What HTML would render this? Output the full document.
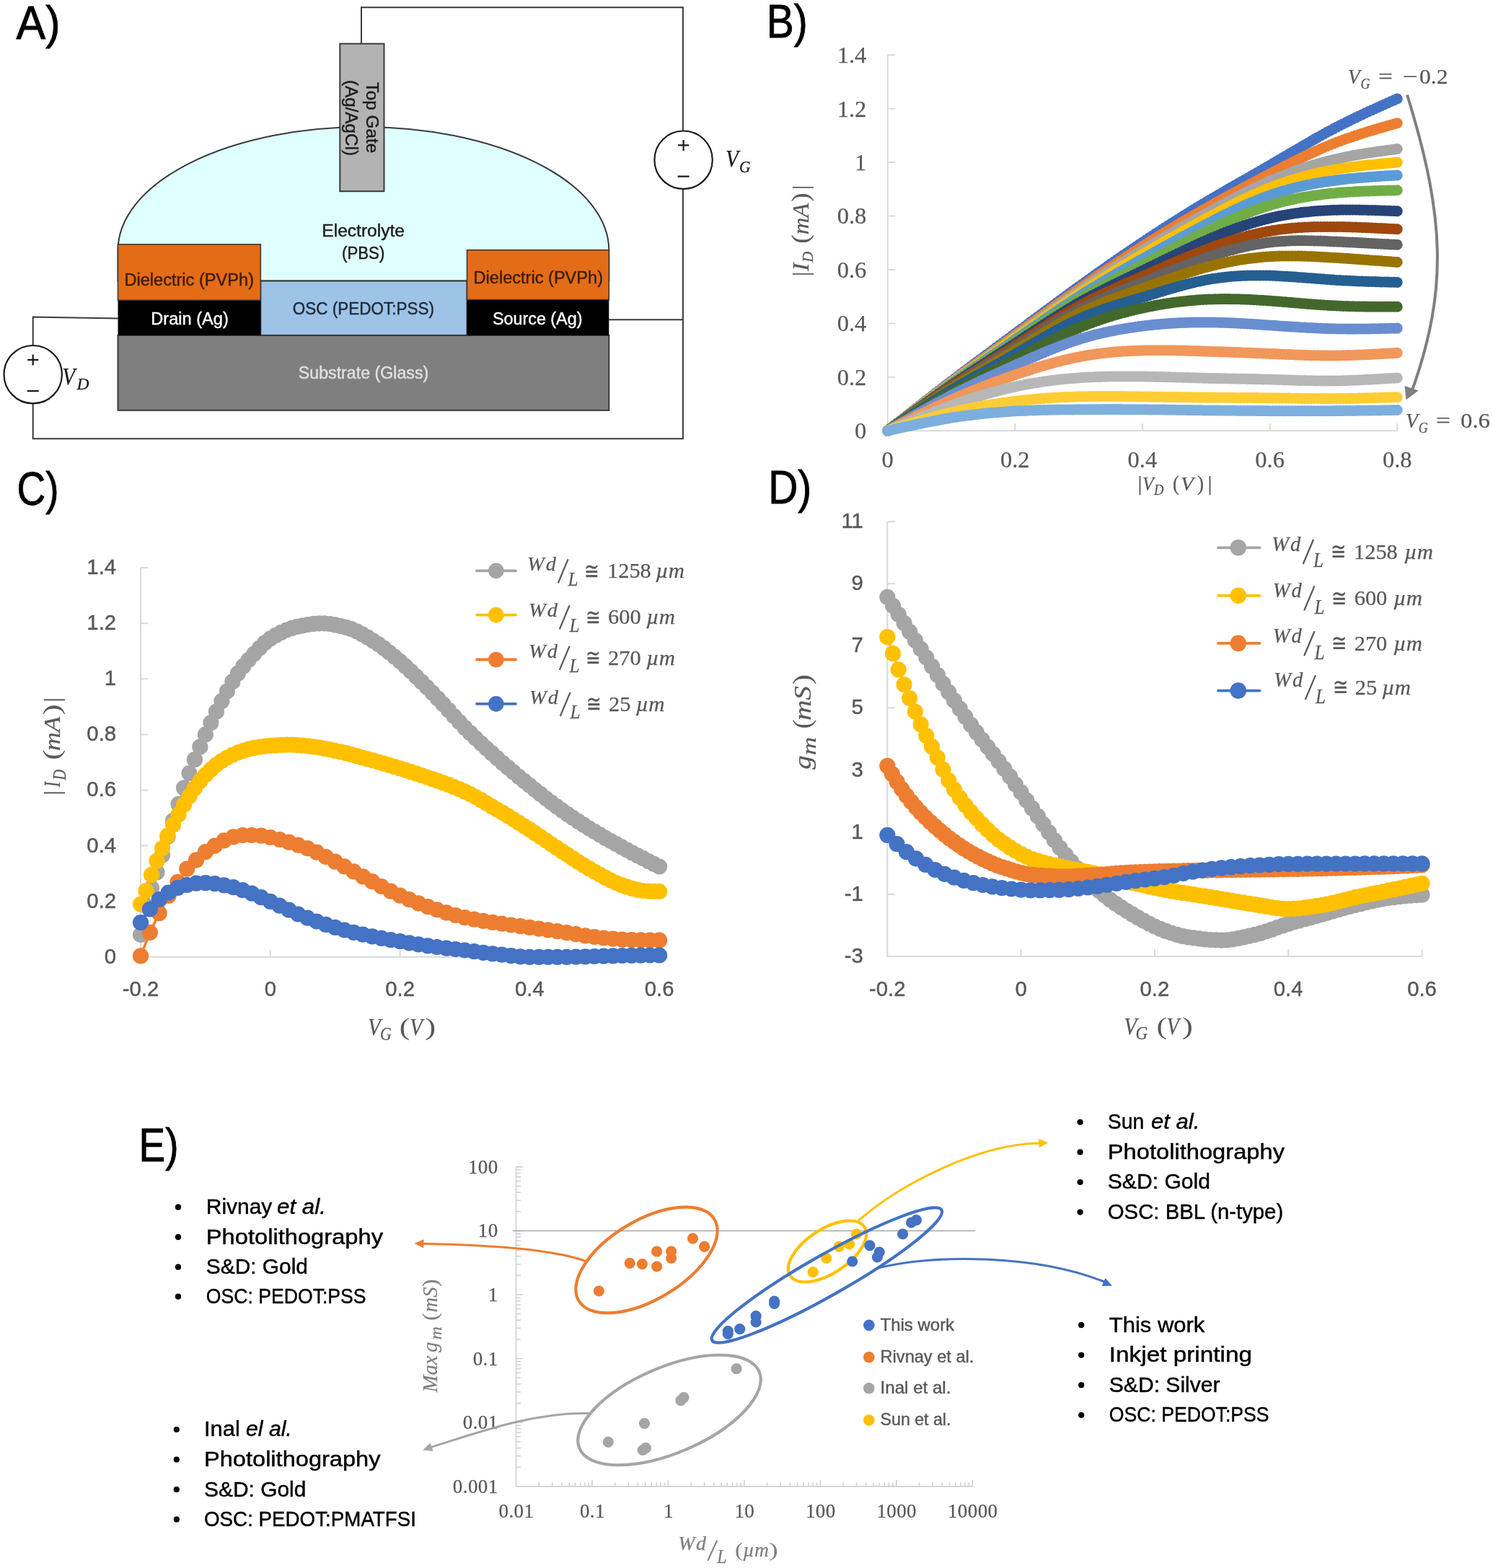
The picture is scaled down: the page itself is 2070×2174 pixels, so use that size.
<!DOCTYPE html>
<html lang="en"><head><meta charset="utf-8"><title>OECT figure</title>
<style>
html,body{margin:0;padding:0;background:#fff}
body{width:2070px;height:2174px;overflow:hidden}
svg{display:block}
.a{font-family:'Liberation Sans','DejaVu Sans',sans-serif}
.b{font-family:'Liberation Serif','DejaVu Serif',serif}
text{white-space:pre}
</style></head><body>
<svg width="2070" height="2174" viewBox="0 0 2070 2174">
<rect width="2070" height="2174" fill="#fff"/>
<g id="panelA">
<text class="a" x="22.5" y="53.5" font-size="64" textLength="61.0" lengthAdjust="spacingAndGlyphs" stroke="#000" stroke-width="0.9">A)</text>
<g fill="none" stroke="#3a3a3a" stroke-width="2">
<path d="M501,61 V10.3 H946.9 V181.5 M946.9,262 V608.2 H45.7 V559.5 M45.7,479 V439.4 L163.5,441.4 M844.3,443.3 H946.9"/>
</g>
<path d="M163.5,389.5 V347 A340.4,171 0 0 1 844.3,347 V389.5 Z" fill="#dffeff" stroke="#3a3a3a" stroke-width="2"/>
<rect x="163.5" y="464.9" width="680.8" height="104" fill="#7f7f7f" stroke="#3a3a3a" stroke-width="2"/>
<rect x="361.3" y="389.5" width="286.2" height="75.4" fill="#9dc3e6" stroke="#3a3a3a" stroke-width="2"/>
<rect x="163.5" y="416" width="197.8" height="49" fill="#000"/>
<rect x="647.5" y="415.3" width="196.8" height="49.7" fill="#000"/>
<rect x="163.5" y="338.8" width="197.8" height="77.4" fill="#e46c17" stroke="#3a3a3a" stroke-width="1.6"/>
<rect x="647.5" y="346.6" width="196.8" height="68.9" fill="#e46c17" stroke="#3a3a3a" stroke-width="1.6"/>
<rect x="471.3" y="60.6" width="61.2" height="204.6" fill="#b3b3b3" stroke="#3a3a3a" stroke-width="2"/>
<circle cx="947.6" cy="221.7" r="40.2" fill="#fff" stroke="#1a1a1a" stroke-width="2.2"/>
<path d="M940.1,201.39999999999998 h15 M947.6,193.89999999999998 v15 M939.6,244.7 h16" stroke="#1a1a1a" stroke-width="2.2" fill="none"/>
<circle cx="45.7" cy="519.2" r="40.2" fill="#fff" stroke="#1a1a1a" stroke-width="2.2"/>
<path d="M38.2,498.90000000000003 h15 M45.7,491.40000000000003 v15 M37.7,542.2 h16" stroke="#1a1a1a" stroke-width="2.2" fill="none"/>
<text class="a" x="446.3" y="327.5" font-size="24.6" fill="#1c1c1c" textLength="114.7" lengthAdjust="spacingAndGlyphs" stroke="#1c1c1c" stroke-width="0.45">Electrolyte</text>
<text class="a" x="474.0" y="358.7" font-size="24.6" fill="#1c1c1c" textLength="59.3" lengthAdjust="spacingAndGlyphs" stroke="#1c1c1c" stroke-width="0.45">(PBS)</text>
<text class="a" x="172.4" y="395.6" font-size="24.6" fill="#3a1c05" textLength="179.6" lengthAdjust="spacingAndGlyphs" stroke="#3a1c05" stroke-width="0.45">Dielectric (PVPh)</text>
<text class="a" x="656.6" y="392.9" font-size="24.6" fill="#3a1c05" textLength="179.4" lengthAdjust="spacingAndGlyphs" stroke="#3a1c05" stroke-width="0.45">Dielectric (PVPh)</text>
<text class="a" x="405.8" y="435.5" font-size="24.6" fill="#1f2a38" textLength="196.2" lengthAdjust="spacingAndGlyphs" stroke="#1f2a38" stroke-width="0.45">OSC (PEDOT:PSS)</text>
<text class="a" x="209.3" y="449.7" font-size="24.6" fill="#fff" textLength="107.5" lengthAdjust="spacingAndGlyphs" stroke="#fff" stroke-width="0.45">Drain (Ag)</text>
<text class="a" x="683.0" y="449.7" font-size="24.6" fill="#fff" textLength="124.4" lengthAdjust="spacingAndGlyphs" stroke="#fff" stroke-width="0.45">Source (Ag)</text>
<text class="a" x="413.8" y="524.5" font-size="24.6" fill="#e0e0e0" textLength="180.5" lengthAdjust="spacingAndGlyphs" stroke="#e0e0e0" stroke-width="0.45">Substrate (Glass)</text>
<text class="a" transform="translate(507.5,113.7) rotate(90)" font-size="24.6" fill="#1c1c1c" textLength="98.6" lengthAdjust="spacingAndGlyphs" stroke="#1c1c1c" stroke-width="0.45">Top Gate</text>
<text class="a" transform="translate(478.5,110.9) rotate(90)" font-size="24.6" fill="#1c1c1c" textLength="105.1" lengthAdjust="spacingAndGlyphs" stroke="#1c1c1c" stroke-width="0.45">(Ag/AgCl)</text>
<text class="b" x="1006.0" y="231.4" font-size="34" fill="#1a1a1a" font-style="italic" textLength="18.0" lengthAdjust="spacingAndGlyphs" stroke="#1a1a1a" stroke-width="0.25">V</text>
<text class="b" x="1025.0" y="238.6" font-size="24" fill="#1a1a1a" font-style="italic" textLength="15.5" lengthAdjust="spacingAndGlyphs" stroke="#1a1a1a" stroke-width="0.25">G</text>
<text class="b" x="86.3" y="532.8" font-size="34" fill="#1a1a1a" font-style="italic" textLength="18.0" lengthAdjust="spacingAndGlyphs" stroke="#1a1a1a" stroke-width="0.25">V</text>
<text class="b" x="106.5" y="539.8" font-size="24" fill="#1a1a1a" font-style="italic" textLength="17.0" lengthAdjust="spacingAndGlyphs" stroke="#1a1a1a" stroke-width="0.25">D</text>
</g>
<g id="panelB">
<text class="a" x="1062.8" y="52.3" font-size="64" textLength="57.0" lengthAdjust="spacingAndGlyphs" stroke="#000" stroke-width="0.9">B)</text>
<path d="M1230.7,76.3 V597.2 H1937.2 M1230.7,597.2 h10.5 M1230.7,522.8 h10.5 M1230.7,448.4 h10.5 M1230.7,373.9 h10.5 M1230.7,299.5 h10.5 M1230.7,225.1 h10.5 M1230.7,150.7 h10.5 M1230.7,76.3 h10.5 M1407.3,597.2 v-10 M1583.9,597.2 v-10 M1760.6,597.2 v-10 M1937.2,597.2 v-10" fill="none" stroke="#d9d9d9" stroke-width="2"/>
<text class="b" x="1201.3" y="608.0" font-size="32.5" fill="#595959" text-anchor="end" stroke="#595959" stroke-width="0.25">0</text>
<text class="b" x="1201.3" y="533.6" font-size="32.5" fill="#595959" text-anchor="end" stroke="#595959" stroke-width="0.25">0.2</text>
<text class="b" x="1201.3" y="459.2" font-size="32.5" fill="#595959" text-anchor="end" stroke="#595959" stroke-width="0.25">0.4</text>
<text class="b" x="1201.3" y="384.7" font-size="32.5" fill="#595959" text-anchor="end" stroke="#595959" stroke-width="0.25">0.6</text>
<text class="b" x="1201.3" y="310.3" font-size="32.5" fill="#595959" text-anchor="end" stroke="#595959" stroke-width="0.25">0.8</text>
<text class="b" x="1201.3" y="235.9" font-size="32.5" fill="#595959" text-anchor="end" stroke="#595959" stroke-width="0.25">1</text>
<text class="b" x="1201.3" y="161.5" font-size="32.5" fill="#595959" text-anchor="end" stroke="#595959" stroke-width="0.25">1.2</text>
<text class="b" x="1201.3" y="87.1" font-size="32.5" fill="#595959" text-anchor="end" stroke="#595959" stroke-width="0.25">1.4</text>
<text class="b" x="1230.7" y="647.8" font-size="32.5" fill="#595959" text-anchor="middle" stroke="#595959" stroke-width="0.25">0</text>
<text class="b" x="1407.3" y="647.8" font-size="32.5" fill="#595959" text-anchor="middle" stroke="#595959" stroke-width="0.25">0.2</text>
<text class="b" x="1583.9" y="647.8" font-size="32.5" fill="#595959" text-anchor="middle" stroke="#595959" stroke-width="0.25">0.4</text>
<text class="b" x="1760.6" y="647.8" font-size="32.5" fill="#595959" text-anchor="middle" stroke="#595959" stroke-width="0.25">0.6</text>
<text class="b" x="1937.2" y="647.8" font-size="32.5" fill="#595959" text-anchor="middle" stroke="#595959" stroke-width="0.25">0.8</text>
<text class="b" x="1577.5" y="679.5" font-size="30" fill="#595959" stroke="#595959" stroke-width="0.25">|</text>
<text class="b" x="1584.0" y="679.5" font-size="28" fill="#595959" font-style="italic" textLength="15.5" lengthAdjust="spacingAndGlyphs" stroke="#595959" stroke-width="0.25">V</text>
<text class="b" x="1600.0" y="685.5" font-size="20" fill="#595959" font-style="italic" textLength="13.5" lengthAdjust="spacingAndGlyphs" stroke="#595959" stroke-width="0.25">D</text>
<text class="b" x="1626.0" y="679.5" font-size="30" fill="#595959" textLength="9.0" lengthAdjust="spacingAndGlyphs" stroke="#595959" stroke-width="0.25">(</text>
<text class="b" x="1637.0" y="679.5" font-size="28" fill="#595959" font-style="italic" textLength="18.0" lengthAdjust="spacingAndGlyphs" stroke="#595959" stroke-width="0.25">V</text>
<text class="b" x="1660.0" y="679.5" font-size="30" fill="#595959" textLength="9.0" lengthAdjust="spacingAndGlyphs" stroke="#595959" stroke-width="0.25">)</text>
<text class="b" x="1674.5" y="679.5" font-size="30" fill="#595959" stroke="#595959" stroke-width="0.25">|</text>
<g transform="translate(1120.5,382.5) rotate(-90)">
<text class="b" x="-0.5" y="0.0" font-size="32" fill="#595959" stroke="#595959" stroke-width="0.25">|</text>
<text class="b" x="6.5" y="0.0" font-size="31.5" fill="#595959" font-style="italic" textLength="11.5" lengthAdjust="spacingAndGlyphs" stroke="#595959" stroke-width="0.25">I</text>
<text class="b" x="18.8" y="6.3" font-size="22" fill="#595959" font-style="italic" textLength="15.0" lengthAdjust="spacingAndGlyphs" stroke="#595959" stroke-width="0.25">D</text>
<text class="b" x="45.0" y="0.0" font-size="33" fill="#595959" textLength="12.0" lengthAdjust="spacingAndGlyphs" stroke="#595959" stroke-width="0.25">(</text>
<text class="b" x="57.3" y="0.0" font-size="31.5" fill="#595959" font-style="italic" textLength="43.5" lengthAdjust="spacingAndGlyphs" stroke="#595959" stroke-width="0.25">mA</text>
<text class="b" x="103.0" y="0.0" font-size="33" fill="#595959" textLength="12.0" lengthAdjust="spacingAndGlyphs" stroke="#595959" stroke-width="0.25">)</text>
<text class="b" x="119.5" y="0.0" font-size="32" fill="#595959" stroke="#595959" stroke-width="0.25">|</text>
</g>
<path d="M1230.7,597.2h0M1235.1,593.7h0M1239.5,590.2h0M1243.9,586.8h0M1248.4,583.3h0M1252.8,579.8h0M1257.2,576.3h0M1261.6,572.9h0M1266.0,569.4h0M1270.4,565.9h0M1274.9,562.5h0M1279.3,559.0h0M1283.7,555.6h0M1288.1,552.2h0M1292.5,548.7h0M1296.9,545.3h0M1301.3,541.9h0M1305.8,538.5h0M1310.2,535.1h0M1314.6,531.7h0M1319.0,528.4h0M1323.4,525.0h0M1327.8,521.7h0M1332.3,518.3h0M1336.7,515.0h0M1341.1,511.7h0M1345.5,508.4h0M1349.9,505.1h0M1354.3,501.8h0M1358.7,498.5h0M1363.2,495.2h0M1367.6,491.9h0M1372.0,488.7h0M1376.4,485.4h0M1380.8,482.1h0M1385.2,478.8h0M1389.7,475.6h0M1394.1,472.3h0M1398.5,469.0h0M1402.9,465.8h0M1407.3,462.5h0M1411.7,459.2h0M1416.2,455.9h0M1420.6,452.7h0M1425.0,449.4h0M1429.4,446.1h0M1433.8,442.8h0M1438.2,439.6h0M1442.6,436.3h0M1447.1,433.0h0M1451.5,429.7h0M1455.9,426.5h0M1460.3,423.2h0M1464.7,420.0h0M1469.1,416.7h0M1473.6,413.5h0M1478.0,410.2h0M1482.4,407.0h0M1486.8,403.8h0M1491.2,400.6h0M1495.6,397.4h0M1500.0,394.2h0M1504.5,391.0h0M1508.9,387.9h0M1513.3,384.7h0M1517.7,381.6h0M1522.1,378.4h0M1526.5,375.3h0M1531.0,372.2h0M1535.4,369.1h0M1539.8,366.1h0M1544.2,363.0h0M1548.6,359.9h0M1553.0,356.9h0M1557.4,353.9h0M1561.9,350.9h0M1566.3,347.9h0M1570.7,344.9h0M1575.1,341.9h0M1579.5,338.9h0M1583.9,336.0h0M1588.4,333.1h0M1592.8,330.1h0M1597.2,327.2h0M1601.6,324.3h0M1606.0,321.5h0M1610.4,318.6h0M1614.8,315.7h0M1619.3,312.9h0M1623.7,310.1h0M1628.1,307.3h0M1632.5,304.5h0M1636.9,301.7h0M1641.3,299.0h0M1645.8,296.2h0M1650.2,293.5h0M1654.6,290.8h0M1659.0,288.1h0M1663.4,285.5h0M1667.8,282.8h0M1672.2,280.2h0M1676.7,277.6h0M1681.1,275.0h0M1685.5,272.4h0M1689.9,269.8h0M1694.3,267.2h0M1698.7,264.7h0M1703.2,262.1h0M1707.6,259.6h0M1712.0,257.1h0M1716.4,254.5h0M1720.8,252.0h0M1725.2,249.5h0M1729.7,247.0h0M1734.1,244.5h0M1738.5,241.9h0M1742.9,239.4h0M1747.3,236.9h0M1751.7,234.3h0M1756.1,231.8h0M1760.6,229.2h0M1765.0,226.6h0M1769.4,224.0h0M1773.8,221.4h0M1778.2,218.8h0M1782.6,216.2h0M1787.1,213.6h0M1791.5,211.0h0M1795.9,208.4h0M1800.3,205.9h0M1804.7,203.3h0M1809.1,200.7h0M1813.5,198.2h0M1818.0,195.6h0M1822.4,193.1h0M1826.8,190.6h0M1831.2,188.2h0M1835.6,185.7h0M1840.0,183.3h0M1844.5,180.9h0M1848.9,178.6h0M1853.3,176.3h0M1857.7,174.0h0M1862.1,171.8h0M1866.5,169.6h0M1870.9,167.4h0M1875.4,165.2h0M1879.8,163.1h0M1884.2,161.0h0M1888.6,158.9h0M1893.0,156.8h0M1897.4,154.8h0M1901.9,152.8h0M1906.3,150.8h0M1910.7,148.7h0M1915.1,146.8h0M1919.5,144.8h0M1923.9,142.8h0M1928.3,140.8h0M1932.8,138.9h0M1937.2,136.9h0" stroke="#4472c4" stroke-width="15" stroke-linecap="round" fill="none"/>
<path d="M1230.7,597.2h0M1235.1,593.8h0M1239.5,590.3h0M1243.9,586.9h0M1248.4,583.5h0M1252.8,580.1h0M1257.2,576.7h0M1261.6,573.2h0M1266.0,569.8h0M1270.4,566.4h0M1274.9,563.0h0M1279.3,559.6h0M1283.7,556.3h0M1288.1,552.9h0M1292.5,549.5h0M1296.9,546.1h0M1301.3,542.8h0M1305.8,539.4h0M1310.2,536.1h0M1314.6,532.8h0M1319.0,529.5h0M1323.4,526.2h0M1327.8,522.9h0M1332.3,519.6h0M1336.7,516.3h0M1341.1,513.1h0M1345.5,509.8h0M1349.9,506.6h0M1354.3,503.4h0M1358.7,500.1h0M1363.2,496.9h0M1367.6,493.7h0M1372.0,490.5h0M1376.4,487.2h0M1380.8,484.0h0M1385.2,480.8h0M1389.7,477.6h0M1394.1,474.4h0M1398.5,471.2h0M1402.9,468.0h0M1407.3,464.7h0M1411.7,461.5h0M1416.2,458.3h0M1420.6,455.0h0M1425.0,451.8h0M1429.4,448.6h0M1433.8,445.4h0M1438.2,442.1h0M1442.6,438.9h0M1447.1,435.7h0M1451.5,432.5h0M1455.9,429.2h0M1460.3,426.0h0M1464.7,422.8h0M1469.1,419.6h0M1473.6,416.5h0M1478.0,413.3h0M1482.4,410.1h0M1486.8,407.0h0M1491.2,403.9h0M1495.6,400.7h0M1500.0,397.6h0M1504.5,394.5h0M1508.9,391.5h0M1513.3,388.4h0M1517.7,385.4h0M1522.1,382.3h0M1526.5,379.3h0M1531.0,376.3h0M1535.4,373.3h0M1539.8,370.4h0M1544.2,367.4h0M1548.6,364.5h0M1553.0,361.6h0M1557.4,358.7h0M1561.9,355.8h0M1566.3,352.9h0M1570.7,350.0h0M1575.1,347.2h0M1579.5,344.4h0M1583.9,341.6h0M1588.4,338.8h0M1592.8,336.0h0M1597.2,333.2h0M1601.6,330.5h0M1606.0,327.8h0M1610.4,325.1h0M1614.8,322.4h0M1619.3,319.7h0M1623.7,317.0h0M1628.1,314.4h0M1632.5,311.7h0M1636.9,309.1h0M1641.3,306.5h0M1645.8,303.9h0M1650.2,301.4h0M1654.6,298.8h0M1659.0,296.3h0M1663.4,293.7h0M1667.8,291.2h0M1672.2,288.7h0M1676.7,286.2h0M1681.1,283.8h0M1685.5,281.3h0M1689.9,278.9h0M1694.3,276.4h0M1698.7,274.0h0M1703.2,271.6h0M1707.6,269.2h0M1712.0,266.8h0M1716.4,264.4h0M1720.8,262.1h0M1725.2,259.7h0M1729.7,257.4h0M1734.1,255.0h0M1738.5,252.7h0M1742.9,250.4h0M1747.3,248.0h0M1751.7,245.7h0M1756.1,243.4h0M1760.6,241.1h0M1765.0,238.8h0M1769.4,236.5h0M1773.8,234.2h0M1778.2,232.0h0M1782.6,229.7h0M1787.1,227.5h0M1791.5,225.2h0M1795.9,223.0h0M1800.3,220.9h0M1804.7,218.7h0M1809.1,216.6h0M1813.5,214.5h0M1818.0,212.4h0M1822.4,210.4h0M1826.8,208.4h0M1831.2,206.4h0M1835.6,204.5h0M1840.0,202.7h0M1844.5,200.8h0M1848.9,199.1h0M1853.3,197.3h0M1857.7,195.7h0M1862.1,194.0h0M1866.5,192.4h0M1870.9,190.9h0M1875.4,189.4h0M1879.8,187.9h0M1884.2,186.4h0M1888.6,185.0h0M1893.0,183.7h0M1897.4,182.3h0M1901.9,181.0h0M1906.3,179.6h0M1910.7,178.3h0M1915.1,177.1h0M1919.5,175.8h0M1923.9,174.5h0M1928.3,173.3h0M1932.8,172.0h0M1937.2,170.8h0" stroke="#ed7d31" stroke-width="15" stroke-linecap="round" fill="none"/>
<path d="M1230.7,597.2h0M1235.1,593.8h0M1239.5,590.4h0M1243.9,587.0h0M1248.4,583.6h0M1252.8,580.2h0M1257.2,576.8h0M1261.6,573.4h0M1266.0,570.0h0M1270.4,566.7h0M1274.9,563.3h0M1279.3,559.9h0M1283.7,556.6h0M1288.1,553.3h0M1292.5,549.9h0M1296.9,546.6h0M1301.3,543.3h0M1305.8,540.0h0M1310.2,536.7h0M1314.6,533.5h0M1319.0,530.2h0M1323.4,527.0h0M1327.8,523.8h0M1332.3,520.6h0M1336.7,517.4h0M1341.1,514.2h0M1345.5,511.0h0M1349.9,507.9h0M1354.3,504.7h0M1358.7,501.6h0M1363.2,498.4h0M1367.6,495.3h0M1372.0,492.2h0M1376.4,489.0h0M1380.8,485.9h0M1385.2,482.7h0M1389.7,479.6h0M1394.1,476.5h0M1398.5,473.3h0M1402.9,470.1h0M1407.3,467.0h0M1411.7,463.8h0M1416.2,460.6h0M1420.6,457.4h0M1425.0,454.2h0M1429.4,451.0h0M1433.8,447.8h0M1438.2,444.6h0M1442.6,441.4h0M1447.1,438.2h0M1451.5,435.0h0M1455.9,431.8h0M1460.3,428.6h0M1464.7,425.4h0M1469.1,422.3h0M1473.6,419.1h0M1478.0,416.0h0M1482.4,412.9h0M1486.8,409.8h0M1491.2,406.8h0M1495.6,403.7h0M1500.0,400.7h0M1504.5,397.7h0M1508.9,394.7h0M1513.3,391.8h0M1517.7,388.8h0M1522.1,385.9h0M1526.5,383.0h0M1531.0,380.2h0M1535.4,377.3h0M1539.8,374.5h0M1544.2,371.7h0M1548.6,368.9h0M1553.0,366.1h0M1557.4,363.4h0M1561.9,360.6h0M1566.3,357.9h0M1570.7,355.2h0M1575.1,352.5h0M1579.5,349.8h0M1583.9,347.1h0M1588.4,344.5h0M1592.8,341.9h0M1597.2,339.2h0M1601.6,336.6h0M1606.0,334.0h0M1610.4,331.4h0M1614.8,328.8h0M1619.3,326.2h0M1623.7,323.7h0M1628.1,321.1h0M1632.5,318.6h0M1636.9,316.1h0M1641.3,313.5h0M1645.8,311.0h0M1650.2,308.5h0M1654.6,306.0h0M1659.0,303.6h0M1663.4,301.1h0M1667.8,298.6h0M1672.2,296.2h0M1676.7,293.7h0M1681.1,291.3h0M1685.5,288.9h0M1689.9,286.4h0M1694.3,284.0h0M1698.7,281.7h0M1703.2,279.3h0M1707.6,277.0h0M1712.0,274.7h0M1716.4,272.4h0M1720.8,270.1h0M1725.2,267.8h0M1729.7,265.6h0M1734.1,263.5h0M1738.5,261.3h0M1742.9,259.2h0M1747.3,257.1h0M1751.7,255.1h0M1756.1,253.1h0M1760.6,251.1h0M1765.0,249.2h0M1769.4,247.4h0M1773.8,245.6h0M1778.2,243.8h0M1782.6,242.0h0M1787.1,240.4h0M1791.5,238.7h0M1795.9,237.1h0M1800.3,235.6h0M1804.7,234.0h0M1809.1,232.6h0M1813.5,231.2h0M1818.0,229.8h0M1822.4,228.4h0M1826.8,227.2h0M1831.2,225.9h0M1835.6,224.7h0M1840.0,223.6h0M1844.5,222.4h0M1848.9,221.4h0M1853.3,220.4h0M1857.7,219.4h0M1862.1,218.4h0M1866.5,217.5h0M1870.9,216.7h0M1875.4,215.8h0M1879.8,215.0h0M1884.2,214.3h0M1888.6,213.5h0M1893.0,212.8h0M1897.4,212.1h0M1901.9,211.4h0M1906.3,210.8h0M1910.7,210.1h0M1915.1,209.5h0M1919.5,208.9h0M1923.9,208.3h0M1928.3,207.7h0M1932.8,207.1h0M1937.2,206.5h0" stroke="#a5a5a5" stroke-width="15" stroke-linecap="round" fill="none"/>
<path d="M1230.7,597.2h0M1235.1,593.9h0M1239.5,590.5h0M1243.9,587.2h0M1248.4,583.9h0M1252.8,580.5h0M1257.2,577.2h0M1261.6,573.9h0M1266.0,570.5h0M1270.4,567.2h0M1274.9,563.9h0M1279.3,560.6h0M1283.7,557.3h0M1288.1,554.0h0M1292.5,550.8h0M1296.9,547.5h0M1301.3,544.2h0M1305.8,541.0h0M1310.2,537.8h0M1314.6,534.5h0M1319.0,531.3h0M1323.4,528.1h0M1327.8,525.0h0M1332.3,521.8h0M1336.7,518.6h0M1341.1,515.5h0M1345.5,512.3h0M1349.9,509.2h0M1354.3,506.1h0M1358.7,503.0h0M1363.2,499.9h0M1367.6,496.8h0M1372.0,493.7h0M1376.4,490.6h0M1380.8,487.5h0M1385.2,484.4h0M1389.7,481.2h0M1394.1,478.1h0M1398.5,475.0h0M1402.9,471.9h0M1407.3,468.8h0M1411.7,465.7h0M1416.2,462.6h0M1420.6,459.5h0M1425.0,456.3h0M1429.4,453.2h0M1433.8,450.1h0M1438.2,447.0h0M1442.6,443.9h0M1447.1,440.8h0M1451.5,437.7h0M1455.9,434.6h0M1460.3,431.5h0M1464.7,428.4h0M1469.1,425.4h0M1473.6,422.3h0M1478.0,419.3h0M1482.4,416.3h0M1486.8,413.3h0M1491.2,410.4h0M1495.6,407.4h0M1500.0,404.5h0M1504.5,401.6h0M1508.9,398.7h0M1513.3,395.9h0M1517.7,393.1h0M1522.1,390.2h0M1526.5,387.5h0M1531.0,384.7h0M1535.4,381.9h0M1539.8,379.2h0M1544.2,376.5h0M1548.6,373.8h0M1553.0,371.1h0M1557.4,368.4h0M1561.9,365.8h0M1566.3,363.1h0M1570.7,360.5h0M1575.1,357.9h0M1579.5,355.3h0M1583.9,352.7h0M1588.4,350.2h0M1592.8,347.6h0M1597.2,345.0h0M1601.6,342.5h0M1606.0,340.0h0M1610.4,337.5h0M1614.8,334.9h0M1619.3,332.4h0M1623.7,330.0h0M1628.1,327.5h0M1632.5,325.0h0M1636.9,322.6h0M1641.3,320.1h0M1645.8,317.7h0M1650.2,315.2h0M1654.6,312.8h0M1659.0,310.4h0M1663.4,308.0h0M1667.8,305.6h0M1672.2,303.2h0M1676.7,300.9h0M1681.1,298.5h0M1685.5,296.2h0M1689.9,293.8h0M1694.3,291.5h0M1698.7,289.2h0M1703.2,286.9h0M1707.6,284.7h0M1712.0,282.5h0M1716.4,280.3h0M1720.8,278.1h0M1725.2,276.0h0M1729.7,273.9h0M1734.1,271.8h0M1738.5,269.8h0M1742.9,267.8h0M1747.3,265.9h0M1751.7,264.0h0M1756.1,262.2h0M1760.6,260.4h0M1765.0,258.7h0M1769.4,257.1h0M1773.8,255.5h0M1778.2,253.9h0M1782.6,252.4h0M1787.1,250.9h0M1791.5,249.5h0M1795.9,248.2h0M1800.3,246.9h0M1804.7,245.6h0M1809.1,244.4h0M1813.5,243.2h0M1818.0,242.1h0M1822.4,241.0h0M1826.8,240.0h0M1831.2,239.0h0M1835.6,238.1h0M1840.0,237.2h0M1844.5,236.3h0M1848.9,235.5h0M1853.3,234.7h0M1857.7,234.0h0M1862.1,233.3h0M1866.5,232.7h0M1870.9,232.0h0M1875.4,231.4h0M1879.8,230.9h0M1884.2,230.3h0M1888.6,229.8h0M1893.0,229.3h0M1897.4,228.8h0M1901.9,228.4h0M1906.3,227.9h0M1910.7,227.5h0M1915.1,227.1h0M1919.5,226.7h0M1923.9,226.3h0M1928.3,225.9h0M1932.8,225.5h0M1937.2,225.1h0" stroke="#ffc000" stroke-width="15" stroke-linecap="round" fill="none"/>
<path d="M1230.7,597.2h0M1235.1,593.9h0M1239.5,590.6h0M1243.9,587.3h0M1248.4,584.0h0M1252.8,580.7h0M1257.2,577.4h0M1261.6,574.1h0M1266.0,570.8h0M1270.4,567.5h0M1274.9,564.2h0M1279.3,560.9h0M1283.7,557.7h0M1288.1,554.4h0M1292.5,551.2h0M1296.9,548.0h0M1301.3,544.8h0M1305.8,541.6h0M1310.2,538.4h0M1314.6,535.2h0M1319.0,532.1h0M1323.4,529.0h0M1327.8,525.8h0M1332.3,522.7h0M1336.7,519.6h0M1341.1,516.6h0M1345.5,513.5h0M1349.9,510.4h0M1354.3,507.4h0M1358.7,504.4h0M1363.2,501.3h0M1367.6,498.3h0M1372.0,495.3h0M1376.4,492.3h0M1380.8,489.2h0M1385.2,486.2h0M1389.7,483.2h0M1394.1,480.2h0M1398.5,477.1h0M1402.9,474.1h0M1407.3,471.1h0M1411.7,468.0h0M1416.2,465.0h0M1420.6,461.9h0M1425.0,458.8h0M1429.4,455.8h0M1433.8,452.7h0M1438.2,449.7h0M1442.6,446.6h0M1447.1,443.6h0M1451.5,440.5h0M1455.9,437.5h0M1460.3,434.5h0M1464.7,431.5h0M1469.1,428.5h0M1473.6,425.6h0M1478.0,422.7h0M1482.4,419.7h0M1486.8,416.8h0M1491.2,414.0h0M1495.6,411.2h0M1500.0,408.3h0M1504.5,405.6h0M1508.9,402.8h0M1513.3,400.1h0M1517.7,397.4h0M1522.1,394.7h0M1526.5,392.1h0M1531.0,389.4h0M1535.4,386.8h0M1539.8,384.2h0M1544.2,381.7h0M1548.6,379.1h0M1553.0,376.6h0M1557.4,374.0h0M1561.9,371.5h0M1566.3,369.0h0M1570.7,366.5h0M1575.1,364.0h0M1579.5,361.5h0M1583.9,359.1h0M1588.4,356.6h0M1592.8,354.1h0M1597.2,351.7h0M1601.6,349.2h0M1606.0,346.8h0M1610.4,344.3h0M1614.8,341.9h0M1619.3,339.5h0M1623.7,337.0h0M1628.1,334.6h0M1632.5,332.2h0M1636.9,329.8h0M1641.3,327.4h0M1645.8,325.1h0M1650.2,322.7h0M1654.6,320.4h0M1659.0,318.0h0M1663.4,315.7h0M1667.8,313.4h0M1672.2,311.1h0M1676.7,308.8h0M1681.1,306.5h0M1685.5,304.2h0M1689.9,302.0h0M1694.3,299.8h0M1698.7,297.6h0M1703.2,295.4h0M1707.6,293.3h0M1712.0,291.2h0M1716.4,289.1h0M1720.8,287.1h0M1725.2,285.1h0M1729.7,283.1h0M1734.1,281.2h0M1738.5,279.4h0M1742.9,277.5h0M1747.3,275.8h0M1751.7,274.1h0M1756.1,272.4h0M1760.6,270.9h0M1765.0,269.3h0M1769.4,267.9h0M1773.8,266.5h0M1778.2,265.1h0M1782.6,263.9h0M1787.1,262.6h0M1791.5,261.5h0M1795.9,260.3h0M1800.3,259.3h0M1804.7,258.2h0M1809.1,257.3h0M1813.5,256.3h0M1818.0,255.5h0M1822.4,254.6h0M1826.8,253.8h0M1831.2,253.1h0M1835.6,252.3h0M1840.0,251.7h0M1844.5,251.0h0M1848.9,250.4h0M1853.3,249.8h0M1857.7,249.3h0M1862.1,248.8h0M1866.5,248.3h0M1870.9,247.8h0M1875.4,247.4h0M1879.8,247.0h0M1884.2,246.6h0M1888.6,246.2h0M1893.0,245.9h0M1897.4,245.5h0M1901.9,245.2h0M1906.3,244.9h0M1910.7,244.6h0M1915.1,244.3h0M1919.5,244.0h0M1923.9,243.8h0M1928.3,243.5h0M1932.8,243.2h0M1937.2,243.0h0" stroke="#5b9bd5" stroke-width="15" stroke-linecap="round" fill="none"/>
<path d="M1230.7,597.2h0M1235.1,593.9h0M1239.5,590.7h0M1243.9,587.4h0M1248.4,584.2h0M1252.8,580.9h0M1257.2,577.7h0M1261.6,574.4h0M1266.0,571.2h0M1270.4,568.0h0M1274.9,564.8h0M1279.3,561.6h0M1283.7,558.4h0M1288.1,555.2h0M1292.5,552.0h0M1296.9,548.8h0M1301.3,545.7h0M1305.8,542.5h0M1310.2,539.4h0M1314.6,536.3h0M1319.0,533.2h0M1323.4,530.1h0M1327.8,527.1h0M1332.3,524.0h0M1336.7,521.0h0M1341.1,518.0h0M1345.5,515.0h0M1349.9,512.0h0M1354.3,509.0h0M1358.7,506.0h0M1363.2,503.0h0M1367.6,500.0h0M1372.0,497.1h0M1376.4,494.1h0M1380.8,491.1h0M1385.2,488.2h0M1389.7,485.2h0M1394.1,482.2h0M1398.5,479.3h0M1402.9,476.3h0M1407.3,473.3h0M1411.7,470.3h0M1416.2,467.3h0M1420.6,464.3h0M1425.0,461.3h0M1429.4,458.3h0M1433.8,455.3h0M1438.2,452.3h0M1442.6,449.3h0M1447.1,446.4h0M1451.5,443.4h0M1455.9,440.5h0M1460.3,437.6h0M1464.7,434.7h0M1469.1,431.8h0M1473.6,429.0h0M1478.0,426.1h0M1482.4,423.4h0M1486.8,420.6h0M1491.2,417.9h0M1495.6,415.2h0M1500.0,412.6h0M1504.5,410.0h0M1508.9,407.5h0M1513.3,405.0h0M1517.7,402.5h0M1522.1,400.0h0M1526.5,397.6h0M1531.0,395.2h0M1535.4,392.8h0M1539.8,390.4h0M1544.2,388.1h0M1548.6,385.7h0M1553.0,383.4h0M1557.4,381.1h0M1561.9,378.8h0M1566.3,376.5h0M1570.7,374.2h0M1575.1,371.9h0M1579.5,369.6h0M1583.9,367.2h0M1588.4,364.9h0M1592.8,362.6h0M1597.2,360.2h0M1601.6,357.9h0M1606.0,355.5h0M1610.4,353.2h0M1614.8,350.8h0M1619.3,348.5h0M1623.7,346.2h0M1628.1,343.8h0M1632.5,341.5h0M1636.9,339.2h0M1641.3,336.9h0M1645.8,334.6h0M1650.2,332.3h0M1654.6,330.0h0M1659.0,327.7h0M1663.4,325.5h0M1667.8,323.3h0M1672.2,321.1h0M1676.7,318.9h0M1681.1,316.8h0M1685.5,314.7h0M1689.9,312.6h0M1694.3,310.5h0M1698.7,308.5h0M1703.2,306.5h0M1707.6,304.6h0M1712.0,302.7h0M1716.4,300.8h0M1720.8,298.9h0M1725.2,297.2h0M1729.7,295.4h0M1734.1,293.7h0M1738.5,292.1h0M1742.9,290.5h0M1747.3,288.9h0M1751.7,287.4h0M1756.1,286.0h0M1760.6,284.6h0M1765.0,283.3h0M1769.4,282.1h0M1773.8,280.9h0M1778.2,279.7h0M1782.6,278.6h0M1787.1,277.6h0M1791.5,276.6h0M1795.9,275.7h0M1800.3,274.8h0M1804.7,274.0h0M1809.1,273.2h0M1813.5,272.4h0M1818.0,271.7h0M1822.4,271.1h0M1826.8,270.4h0M1831.2,269.9h0M1835.6,269.3h0M1840.0,268.8h0M1844.5,268.3h0M1848.9,267.9h0M1853.3,267.5h0M1857.7,267.1h0M1862.1,266.8h0M1866.5,266.4h0M1870.9,266.2h0M1875.4,265.9h0M1879.8,265.6h0M1884.2,265.4h0M1888.6,265.2h0M1893.0,265.0h0M1897.4,264.9h0M1901.9,264.7h0M1906.3,264.6h0M1910.7,264.4h0M1915.1,264.3h0M1919.5,264.2h0M1923.9,264.1h0M1928.3,264.0h0M1932.8,263.9h0M1937.2,263.8h0" stroke="#70ad47" stroke-width="15" stroke-linecap="round" fill="none"/>
<path d="M1230.7,597.2h0M1235.1,594.0h0M1239.5,590.8h0M1243.9,587.6h0M1248.4,584.4h0M1252.8,581.2h0M1257.2,578.0h0M1261.6,574.8h0M1266.0,571.6h0M1270.4,568.4h0M1274.9,565.2h0M1279.3,562.1h0M1283.7,558.9h0M1288.1,555.8h0M1292.5,552.7h0M1296.9,549.6h0M1301.3,546.5h0M1305.8,543.4h0M1310.2,540.4h0M1314.6,537.3h0M1319.0,534.3h0M1323.4,531.3h0M1327.8,528.3h0M1332.3,525.4h0M1336.7,522.4h0M1341.1,519.5h0M1345.5,516.6h0M1349.9,513.7h0M1354.3,510.8h0M1358.7,507.9h0M1363.2,505.0h0M1367.6,502.2h0M1372.0,499.3h0M1376.4,496.4h0M1380.8,493.5h0M1385.2,490.7h0M1389.7,487.8h0M1394.1,484.9h0M1398.5,482.1h0M1402.9,479.2h0M1407.3,476.3h0M1411.7,473.4h0M1416.2,470.4h0M1420.6,467.5h0M1425.0,464.6h0M1429.4,461.7h0M1433.8,458.8h0M1438.2,455.9h0M1442.6,453.0h0M1447.1,450.1h0M1451.5,447.2h0M1455.9,444.4h0M1460.3,441.5h0M1464.7,438.7h0M1469.1,436.0h0M1473.6,433.2h0M1478.0,430.5h0M1482.4,427.8h0M1486.8,425.2h0M1491.2,422.6h0M1495.6,420.1h0M1500.0,417.6h0M1504.5,415.1h0M1508.9,412.7h0M1513.3,410.3h0M1517.7,408.0h0M1522.1,405.7h0M1526.5,403.4h0M1531.0,401.2h0M1535.4,399.0h0M1539.8,396.8h0M1544.2,394.6h0M1548.6,392.5h0M1553.0,390.3h0M1557.4,388.2h0M1561.9,386.1h0M1566.3,383.9h0M1570.7,381.8h0M1575.1,379.7h0M1579.5,377.6h0M1583.9,375.4h0M1588.4,373.3h0M1592.8,371.1h0M1597.2,369.0h0M1601.6,366.8h0M1606.0,364.7h0M1610.4,362.5h0M1614.8,360.3h0M1619.3,358.2h0M1623.7,356.0h0M1628.1,353.9h0M1632.5,351.8h0M1636.9,349.7h0M1641.3,347.6h0M1645.8,345.5h0M1650.2,343.4h0M1654.6,341.3h0M1659.0,339.3h0M1663.4,337.3h0M1667.8,335.3h0M1672.2,333.4h0M1676.7,331.5h0M1681.1,329.6h0M1685.5,327.7h0M1689.9,325.9h0M1694.3,324.1h0M1698.7,322.3h0M1703.2,320.6h0M1707.6,319.0h0M1712.0,317.3h0M1716.4,315.7h0M1720.8,314.2h0M1725.2,312.7h0M1729.7,311.2h0M1734.1,309.8h0M1738.5,308.5h0M1742.9,307.2h0M1747.3,305.9h0M1751.7,304.7h0M1756.1,303.6h0M1760.6,302.5h0M1765.0,301.5h0M1769.4,300.5h0M1773.8,299.6h0M1778.2,298.7h0M1782.6,297.9h0M1787.1,297.2h0M1791.5,296.5h0M1795.9,295.8h0M1800.3,295.2h0M1804.7,294.6h0M1809.1,294.1h0M1813.5,293.7h0M1818.0,293.2h0M1822.4,292.8h0M1826.8,292.5h0M1831.2,292.2h0M1835.6,291.9h0M1840.0,291.7h0M1844.5,291.5h0M1848.9,291.3h0M1853.3,291.2h0M1857.7,291.1h0M1862.1,291.0h0M1866.5,291.0h0M1870.9,291.0h0M1875.4,291.0h0M1879.8,291.0h0M1884.2,291.1h0M1888.6,291.2h0M1893.0,291.3h0M1897.4,291.4h0M1901.9,291.5h0M1906.3,291.6h0M1910.7,291.8h0M1915.1,291.9h0M1919.5,292.1h0M1923.9,292.3h0M1928.3,292.5h0M1932.8,292.6h0M1937.2,292.8h0" stroke="#264478" stroke-width="15" stroke-linecap="round" fill="none"/>
<path d="M1230.7,597.2h0M1235.1,594.0h0M1239.5,590.9h0M1243.9,587.7h0M1248.4,584.5h0M1252.8,581.4h0M1257.2,578.2h0M1261.6,575.1h0M1266.0,571.9h0M1270.4,568.8h0M1274.9,565.7h0M1279.3,562.6h0M1283.7,559.5h0M1288.1,556.4h0M1292.5,553.4h0M1296.9,550.3h0M1301.3,547.3h0M1305.8,544.3h0M1310.2,541.3h0M1314.6,538.4h0M1319.0,535.4h0M1323.4,532.5h0M1327.8,529.6h0M1332.3,526.8h0M1336.7,523.9h0M1341.1,521.1h0M1345.5,518.3h0M1349.9,515.4h0M1354.3,512.7h0M1358.7,509.9h0M1363.2,507.1h0M1367.6,504.3h0M1372.0,501.5h0M1376.4,498.8h0M1380.8,496.0h0M1385.2,493.2h0M1389.7,490.4h0M1394.1,487.7h0M1398.5,484.9h0M1402.9,482.1h0M1407.3,479.2h0M1411.7,476.4h0M1416.2,473.6h0M1420.6,470.7h0M1425.0,467.9h0M1429.4,465.0h0M1433.8,462.2h0M1438.2,459.3h0M1442.6,456.5h0M1447.1,453.7h0M1451.5,450.9h0M1455.9,448.1h0M1460.3,445.3h0M1464.7,442.6h0M1469.1,439.9h0M1473.6,437.2h0M1478.0,434.6h0M1482.4,432.0h0M1486.8,429.5h0M1491.2,427.0h0M1495.6,424.5h0M1500.0,422.2h0M1504.5,419.8h0M1508.9,417.5h0M1513.3,415.3h0M1517.7,413.1h0M1522.1,410.9h0M1526.5,408.8h0M1531.0,406.7h0M1535.4,404.7h0M1539.8,402.7h0M1544.2,400.7h0M1548.6,398.7h0M1553.0,396.7h0M1557.4,394.8h0M1561.9,392.8h0M1566.3,390.9h0M1570.7,389.0h0M1575.1,387.1h0M1579.5,385.2h0M1583.9,383.2h0M1588.4,381.3h0M1592.8,379.4h0M1597.2,377.5h0M1601.6,375.5h0M1606.0,373.6h0M1610.4,371.7h0M1614.8,369.8h0M1619.3,367.9h0M1623.7,365.9h0M1628.1,364.1h0M1632.5,362.2h0M1636.9,360.3h0M1641.3,358.4h0M1645.8,356.6h0M1650.2,354.8h0M1654.6,353.0h0M1659.0,351.2h0M1663.4,349.5h0M1667.8,347.7h0M1672.2,346.0h0M1676.7,344.4h0M1681.1,342.7h0M1685.5,341.1h0M1689.9,339.5h0M1694.3,338.0h0M1698.7,336.5h0M1703.2,335.0h0M1707.6,333.6h0M1712.0,332.3h0M1716.4,330.9h0M1720.8,329.6h0M1725.2,328.4h0M1729.7,327.2h0M1734.1,326.1h0M1738.5,325.0h0M1742.9,323.9h0M1747.3,323.0h0M1751.7,322.0h0M1756.1,321.2h0M1760.6,320.4h0M1765.0,319.6h0M1769.4,318.9h0M1773.8,318.3h0M1778.2,317.7h0M1782.6,317.2h0M1787.1,316.7h0M1791.5,316.3h0M1795.9,316.0h0M1800.3,315.6h0M1804.7,315.4h0M1809.1,315.1h0M1813.5,314.9h0M1818.0,314.7h0M1822.4,314.6h0M1826.8,314.5h0M1831.2,314.4h0M1835.6,314.4h0M1840.0,314.4h0M1844.5,314.4h0M1848.9,314.4h0M1853.3,314.5h0M1857.7,314.5h0M1862.1,314.6h0M1866.5,314.7h0M1870.9,314.8h0M1875.4,314.9h0M1879.8,315.1h0M1884.2,315.2h0M1888.6,315.4h0M1893.0,315.6h0M1897.4,315.8h0M1901.9,316.0h0M1906.3,316.2h0M1910.7,316.4h0M1915.1,316.6h0M1919.5,316.8h0M1923.9,317.1h0M1928.3,317.3h0M1932.8,317.5h0M1937.2,317.8h0" stroke="#9e480e" stroke-width="15" stroke-linecap="round" fill="none"/>
<path d="M1230.7,597.2h0M1235.1,594.1h0M1239.5,591.0h0M1243.9,587.9h0M1248.4,584.8h0M1252.8,581.7h0M1257.2,578.7h0M1261.6,575.6h0M1266.0,572.5h0M1270.4,569.5h0M1274.9,566.4h0M1279.3,563.4h0M1283.7,560.4h0M1288.1,557.4h0M1292.5,554.4h0M1296.9,551.5h0M1301.3,548.5h0M1305.8,545.6h0M1310.2,542.7h0M1314.6,539.8h0M1319.0,536.9h0M1323.4,534.1h0M1327.8,531.3h0M1332.3,528.5h0M1336.7,525.7h0M1341.1,522.9h0M1345.5,520.2h0M1349.9,517.5h0M1354.3,514.7h0M1358.7,512.0h0M1363.2,509.3h0M1367.6,506.6h0M1372.0,503.9h0M1376.4,501.2h0M1380.8,498.5h0M1385.2,495.8h0M1389.7,493.1h0M1394.1,490.4h0M1398.5,487.7h0M1402.9,485.0h0M1407.3,482.2h0M1411.7,479.5h0M1416.2,476.7h0M1420.6,473.9h0M1425.0,471.1h0M1429.4,468.4h0M1433.8,465.6h0M1438.2,462.8h0M1442.6,460.1h0M1447.1,457.3h0M1451.5,454.6h0M1455.9,451.9h0M1460.3,449.3h0M1464.7,446.6h0M1469.1,444.0h0M1473.6,441.5h0M1478.0,439.0h0M1482.4,436.5h0M1486.8,434.1h0M1491.2,431.7h0M1495.6,429.4h0M1500.0,427.1h0M1504.5,424.9h0M1508.9,422.8h0M1513.3,420.7h0M1517.7,418.7h0M1522.1,416.7h0M1526.5,414.7h0M1531.0,412.8h0M1535.4,410.9h0M1539.8,409.1h0M1544.2,407.2h0M1548.6,405.4h0M1553.0,403.6h0M1557.4,401.9h0M1561.9,400.1h0M1566.3,398.4h0M1570.7,396.6h0M1575.1,394.9h0M1579.5,393.2h0M1583.9,391.4h0M1588.4,389.7h0M1592.8,387.9h0M1597.2,386.2h0M1601.6,384.4h0M1606.0,382.6h0M1610.4,380.9h0M1614.8,379.1h0M1619.3,377.4h0M1623.7,375.6h0M1628.1,373.9h0M1632.5,372.2h0M1636.9,370.5h0M1641.3,368.8h0M1645.8,367.1h0M1650.2,365.5h0M1654.6,363.8h0M1659.0,362.2h0M1663.4,360.7h0M1667.8,359.1h0M1672.2,357.6h0M1676.7,356.1h0M1681.1,354.6h0M1685.5,353.2h0M1689.9,351.8h0M1694.3,350.4h0M1698.7,349.1h0M1703.2,347.8h0M1707.6,346.6h0M1712.0,345.4h0M1716.4,344.3h0M1720.8,343.2h0M1725.2,342.2h0M1729.7,341.2h0M1734.1,340.3h0M1738.5,339.4h0M1742.9,338.6h0M1747.3,337.9h0M1751.7,337.2h0M1756.1,336.5h0M1760.6,336.0h0M1765.0,335.5h0M1769.4,335.1h0M1773.8,334.7h0M1778.2,334.4h0M1782.6,334.2h0M1787.1,334.0h0M1791.5,333.8h0M1795.9,333.7h0M1800.3,333.6h0M1804.7,333.6h0M1809.1,333.6h0M1813.5,333.7h0M1818.0,333.8h0M1822.4,333.9h0M1826.8,334.0h0M1831.2,334.1h0M1835.6,334.3h0M1840.0,334.5h0M1844.5,334.7h0M1848.9,334.9h0M1853.3,335.1h0M1857.7,335.3h0M1862.1,335.5h0M1866.5,335.7h0M1870.9,335.9h0M1875.4,336.1h0M1879.8,336.3h0M1884.2,336.6h0M1888.6,336.8h0M1893.0,337.0h0M1897.4,337.2h0M1901.9,337.5h0M1906.3,337.7h0M1910.7,337.9h0M1915.1,338.2h0M1919.5,338.4h0M1923.9,338.6h0M1928.3,338.9h0M1932.8,339.1h0M1937.2,339.3h0" stroke="#636363" stroke-width="15" stroke-linecap="round" fill="none"/>
<path d="M1230.7,597.2h0M1235.1,594.2h0M1239.5,591.1h0M1243.9,588.1h0M1248.4,585.1h0M1252.8,582.1h0M1257.2,579.0h0M1261.6,576.0h0M1266.0,573.0h0M1270.4,570.1h0M1274.9,567.1h0M1279.3,564.1h0M1283.7,561.2h0M1288.1,558.3h0M1292.5,555.4h0M1296.9,552.5h0M1301.3,549.6h0M1305.8,546.8h0M1310.2,544.0h0M1314.6,541.2h0M1319.0,538.4h0M1323.4,535.7h0M1327.8,533.0h0M1332.3,530.3h0M1336.7,527.6h0M1341.1,525.0h0M1345.5,522.4h0M1349.9,519.7h0M1354.3,517.1h0M1358.7,514.6h0M1363.2,512.0h0M1367.6,509.4h0M1372.0,506.8h0M1376.4,504.2h0M1380.8,501.6h0M1385.2,499.1h0M1389.7,496.5h0M1394.1,493.9h0M1398.5,491.2h0M1402.9,488.6h0M1407.3,485.9h0M1411.7,483.3h0M1416.2,480.6h0M1420.6,477.9h0M1425.0,475.2h0M1429.4,472.5h0M1433.8,469.7h0M1438.2,467.0h0M1442.6,464.4h0M1447.1,461.7h0M1451.5,459.0h0M1455.9,456.4h0M1460.3,453.8h0M1464.7,451.2h0M1469.1,448.7h0M1473.6,446.2h0M1478.0,443.8h0M1482.4,441.4h0M1486.8,439.1h0M1491.2,436.8h0M1495.6,434.6h0M1500.0,432.5h0M1504.5,430.4h0M1508.9,428.4h0M1513.3,426.4h0M1517.7,424.5h0M1522.1,422.7h0M1526.5,420.9h0M1531.0,419.2h0M1535.4,417.4h0M1539.8,415.8h0M1544.2,414.1h0M1548.6,412.5h0M1553.0,410.9h0M1557.4,409.3h0M1561.9,407.7h0M1566.3,406.2h0M1570.7,404.6h0M1575.1,403.1h0M1579.5,401.5h0M1583.9,400.0h0M1588.4,398.4h0M1592.8,396.9h0M1597.2,395.3h0M1601.6,393.7h0M1606.0,392.1h0M1610.4,390.6h0M1614.8,389.0h0M1619.3,387.5h0M1623.7,385.9h0M1628.1,384.4h0M1632.5,382.9h0M1636.9,381.4h0M1641.3,380.0h0M1645.8,378.5h0M1650.2,377.1h0M1654.6,375.7h0M1659.0,374.4h0M1663.4,373.1h0M1667.8,371.8h0M1672.2,370.6h0M1676.7,369.4h0M1681.1,368.3h0M1685.5,367.2h0M1689.9,366.1h0M1694.3,365.1h0M1698.7,364.2h0M1703.2,363.3h0M1707.6,362.4h0M1712.0,361.6h0M1716.4,360.8h0M1720.8,360.1h0M1725.2,359.4h0M1729.7,358.8h0M1734.1,358.2h0M1738.5,357.7h0M1742.9,357.2h0M1747.3,356.7h0M1751.7,356.3h0M1756.1,356.0h0M1760.6,355.7h0M1765.0,355.5h0M1769.4,355.3h0M1773.8,355.1h0M1778.2,355.0h0M1782.6,354.9h0M1787.1,354.9h0M1791.5,354.9h0M1795.9,354.9h0M1800.3,355.0h0M1804.7,355.1h0M1809.1,355.2h0M1813.5,355.4h0M1818.0,355.5h0M1822.4,355.7h0M1826.8,355.9h0M1831.2,356.2h0M1835.6,356.4h0M1840.0,356.7h0M1844.5,356.9h0M1848.9,357.2h0M1853.3,357.5h0M1857.7,357.8h0M1862.1,358.1h0M1866.5,358.3h0M1870.9,358.6h0M1875.4,359.0h0M1879.8,359.3h0M1884.2,359.6h0M1888.6,359.9h0M1893.0,360.2h0M1897.4,360.5h0M1901.9,360.9h0M1906.3,361.2h0M1910.7,361.5h0M1915.1,361.8h0M1919.5,362.2h0M1923.9,362.5h0M1928.3,362.8h0M1932.8,363.2h0M1937.2,363.5h0" stroke="#997300" stroke-width="15" stroke-linecap="round" fill="none"/>
<path d="M1230.7,597.2h0M1235.1,594.3h0M1239.5,591.4h0M1243.9,588.5h0M1248.4,585.6h0M1252.8,582.7h0M1257.2,579.8h0M1261.6,576.9h0M1266.0,574.1h0M1270.4,571.2h0M1274.9,568.4h0M1279.3,565.5h0M1283.7,562.7h0M1288.1,559.9h0M1292.5,557.2h0M1296.9,554.4h0M1301.3,551.7h0M1305.8,549.0h0M1310.2,546.3h0M1314.6,543.6h0M1319.0,541.0h0M1323.4,538.4h0M1327.8,535.8h0M1332.3,533.3h0M1336.7,530.8h0M1341.1,528.3h0M1345.5,525.8h0M1349.9,523.3h0M1354.3,520.8h0M1358.7,518.4h0M1363.2,515.9h0M1367.6,513.5h0M1372.0,511.0h0M1376.4,508.6h0M1380.8,506.1h0M1385.2,503.7h0M1389.7,501.2h0M1394.1,498.7h0M1398.5,496.2h0M1402.9,493.7h0M1407.3,491.2h0M1411.7,488.6h0M1416.2,486.0h0M1420.6,483.4h0M1425.0,480.8h0M1429.4,478.2h0M1433.8,475.6h0M1438.2,473.0h0M1442.6,470.5h0M1447.1,467.9h0M1451.5,465.4h0M1455.9,462.9h0M1460.3,460.4h0M1464.7,458.0h0M1469.1,455.6h0M1473.6,453.2h0M1478.0,450.9h0M1482.4,448.7h0M1486.8,446.5h0M1491.2,444.4h0M1495.6,442.4h0M1500.0,440.5h0M1504.5,438.6h0M1508.9,436.8h0M1513.3,435.0h0M1517.7,433.4h0M1522.1,431.7h0M1526.5,430.2h0M1531.0,428.6h0M1535.4,427.1h0M1539.8,425.7h0M1544.2,424.3h0M1548.6,422.9h0M1553.0,421.5h0M1557.4,420.2h0M1561.9,418.9h0M1566.3,417.5h0M1570.7,416.2h0M1575.1,414.9h0M1579.5,413.6h0M1583.9,412.3h0M1588.4,410.9h0M1592.8,409.6h0M1597.2,408.2h0M1601.6,406.9h0M1606.0,405.5h0M1610.4,404.2h0M1614.8,402.8h0M1619.3,401.5h0M1623.7,400.2h0M1628.1,398.9h0M1632.5,397.7h0M1636.9,396.4h0M1641.3,395.2h0M1645.8,394.1h0M1650.2,392.9h0M1654.6,391.9h0M1659.0,390.8h0M1663.4,389.9h0M1667.8,388.9h0M1672.2,388.1h0M1676.7,387.3h0M1681.1,386.5h0M1685.5,385.9h0M1689.9,385.2h0M1694.3,384.7h0M1698.7,384.2h0M1703.2,383.7h0M1707.6,383.3h0M1712.0,383.0h0M1716.4,382.7h0M1720.8,382.4h0M1725.2,382.2h0M1729.7,382.1h0M1734.1,382.0h0M1738.5,381.9h0M1742.9,381.9h0M1747.3,381.9h0M1751.7,381.9h0M1756.1,382.0h0M1760.6,382.1h0M1765.0,382.3h0M1769.4,382.5h0M1773.8,382.7h0M1778.2,382.9h0M1782.6,383.2h0M1787.1,383.4h0M1791.5,383.7h0M1795.9,384.1h0M1800.3,384.4h0M1804.7,384.7h0M1809.1,385.1h0M1813.5,385.4h0M1818.0,385.8h0M1822.4,386.1h0M1826.8,386.5h0M1831.2,386.8h0M1835.6,387.1h0M1840.0,387.5h0M1844.5,387.8h0M1848.9,388.1h0M1853.3,388.4h0M1857.7,388.6h0M1862.1,388.9h0M1866.5,389.1h0M1870.9,389.3h0M1875.4,389.5h0M1879.8,389.7h0M1884.2,389.9h0M1888.6,390.0h0M1893.0,390.2h0M1897.4,390.4h0M1901.9,390.5h0M1906.3,390.6h0M1910.7,390.8h0M1915.1,390.9h0M1919.5,391.0h0M1923.9,391.1h0M1928.3,391.2h0M1932.8,391.3h0M1937.2,391.4h0" stroke="#255e91" stroke-width="15" stroke-linecap="round" fill="none"/>
<path d="M1230.7,597.2h0M1235.1,594.5h0M1239.5,591.7h0M1243.9,589.0h0M1248.4,586.2h0M1252.8,583.5h0M1257.2,580.8h0M1261.6,578.1h0M1266.0,575.4h0M1270.4,572.7h0M1274.9,570.0h0M1279.3,567.4h0M1283.7,564.7h0M1288.1,562.1h0M1292.5,559.5h0M1296.9,556.9h0M1301.3,554.3h0M1305.8,551.8h0M1310.2,549.3h0M1314.6,546.8h0M1319.0,544.4h0M1323.4,541.9h0M1327.8,539.5h0M1332.3,537.2h0M1336.7,534.8h0M1341.1,532.5h0M1345.5,530.2h0M1349.9,527.9h0M1354.3,525.6h0M1358.7,523.3h0M1363.2,521.1h0M1367.6,518.8h0M1372.0,516.6h0M1376.4,514.4h0M1380.8,512.1h0M1385.2,509.9h0M1389.7,507.6h0M1394.1,505.4h0M1398.5,503.1h0M1402.9,500.9h0M1407.3,498.6h0M1411.7,496.3h0M1416.2,494.0h0M1420.6,491.7h0M1425.0,489.4h0M1429.4,487.1h0M1433.8,484.7h0M1438.2,482.4h0M1442.6,480.1h0M1447.1,477.9h0M1451.5,475.6h0M1455.9,473.4h0M1460.3,471.1h0M1464.7,468.9h0M1469.1,466.8h0M1473.6,464.7h0M1478.0,462.6h0M1482.4,460.5h0M1486.8,458.5h0M1491.2,456.6h0M1495.6,454.7h0M1500.0,452.8h0M1504.5,451.1h0M1508.9,449.3h0M1513.3,447.7h0M1517.7,446.0h0M1522.1,444.5h0M1526.5,442.9h0M1531.0,441.5h0M1535.4,440.0h0M1539.8,438.6h0M1544.2,437.3h0M1548.6,436.0h0M1553.0,434.8h0M1557.4,433.6h0M1561.9,432.4h0M1566.3,431.3h0M1570.7,430.2h0M1575.1,429.1h0M1579.5,428.1h0M1583.9,427.2h0M1588.4,426.2h0M1592.8,425.3h0M1597.2,424.4h0M1601.6,423.6h0M1606.0,422.8h0M1610.4,422.0h0M1614.8,421.3h0M1619.3,420.6h0M1623.7,420.0h0M1628.1,419.3h0M1632.5,418.8h0M1636.9,418.2h0M1641.3,417.7h0M1645.8,417.2h0M1650.2,416.8h0M1654.6,416.4h0M1659.0,416.1h0M1663.4,415.8h0M1667.8,415.5h0M1672.2,415.2h0M1676.7,415.0h0M1681.1,414.9h0M1685.5,414.8h0M1689.9,414.7h0M1694.3,414.6h0M1698.7,414.6h0M1703.2,414.6h0M1707.6,414.7h0M1712.0,414.7h0M1716.4,414.8h0M1720.8,415.0h0M1725.2,415.1h0M1729.7,415.3h0M1734.1,415.5h0M1738.5,415.7h0M1742.9,416.0h0M1747.3,416.2h0M1751.7,416.5h0M1756.1,416.8h0M1760.6,417.1h0M1765.0,417.4h0M1769.4,417.8h0M1773.8,418.1h0M1778.2,418.5h0M1782.6,418.8h0M1787.1,419.2h0M1791.5,419.6h0M1795.9,419.9h0M1800.3,420.3h0M1804.7,420.7h0M1809.1,421.0h0M1813.5,421.4h0M1818.0,421.7h0M1822.4,422.1h0M1826.8,422.4h0M1831.2,422.7h0M1835.6,423.0h0M1840.0,423.3h0M1844.5,423.6h0M1848.9,423.8h0M1853.3,424.0h0M1857.7,424.2h0M1862.1,424.4h0M1866.5,424.5h0M1870.9,424.7h0M1875.4,424.8h0M1879.8,424.9h0M1884.2,425.0h0M1888.6,425.1h0M1893.0,425.1h0M1897.4,425.2h0M1901.9,425.2h0M1906.3,425.2h0M1910.7,425.3h0M1915.1,425.3h0M1919.5,425.3h0M1923.9,425.3h0M1928.3,425.3h0M1932.8,425.3h0M1937.2,425.3h0" stroke="#43682b" stroke-width="15" stroke-linecap="round" fill="none"/>
<path d="M1230.7,597.2h0M1235.1,594.7h0M1239.5,592.1h0M1243.9,589.6h0M1248.4,587.0h0M1252.8,584.5h0M1257.2,582.0h0M1261.6,579.4h0M1266.0,576.9h0M1270.4,574.4h0M1274.9,572.0h0M1279.3,569.5h0M1283.7,567.0h0M1288.1,564.6h0M1292.5,562.2h0M1296.9,559.8h0M1301.3,557.4h0M1305.8,555.0h0M1310.2,552.7h0M1314.6,550.4h0M1319.0,548.1h0M1323.4,545.8h0M1327.8,543.6h0M1332.3,541.4h0M1336.7,539.2h0M1341.1,537.0h0M1345.5,534.9h0M1349.9,532.8h0M1354.3,530.7h0M1358.7,528.6h0M1363.2,526.5h0M1367.6,524.5h0M1372.0,522.4h0M1376.4,520.4h0M1380.8,518.4h0M1385.2,516.4h0M1389.7,514.4h0M1394.1,512.4h0M1398.5,510.4h0M1402.9,508.4h0M1407.3,506.4h0M1411.7,504.4h0M1416.2,502.4h0M1420.6,500.5h0M1425.0,498.5h0M1429.4,496.6h0M1433.8,494.6h0M1438.2,492.7h0M1442.6,490.8h0M1447.1,488.9h0M1451.5,487.1h0M1455.9,485.3h0M1460.3,483.5h0M1464.7,481.7h0M1469.1,480.0h0M1473.6,478.4h0M1478.0,476.7h0M1482.4,475.1h0M1486.8,473.6h0M1491.2,472.1h0M1495.6,470.7h0M1500.0,469.3h0M1504.5,468.0h0M1508.9,466.7h0M1513.3,465.5h0M1517.7,464.3h0M1522.1,463.2h0M1526.5,462.2h0M1531.0,461.1h0M1535.4,460.2h0M1539.8,459.2h0M1544.2,458.4h0M1548.6,457.5h0M1553.0,456.7h0M1557.4,455.9h0M1561.9,455.2h0M1566.3,454.5h0M1570.7,453.9h0M1575.1,453.2h0M1579.5,452.6h0M1583.9,452.1h0M1588.4,451.5h0M1592.8,451.0h0M1597.2,450.6h0M1601.6,450.1h0M1606.0,449.7h0M1610.4,449.3h0M1614.8,449.0h0M1619.3,448.6h0M1623.7,448.3h0M1628.1,448.1h0M1632.5,447.8h0M1636.9,447.6h0M1641.3,447.4h0M1645.8,447.3h0M1650.2,447.1h0M1654.6,447.0h0M1659.0,446.9h0M1663.4,446.9h0M1667.8,446.9h0M1672.2,446.9h0M1676.7,446.9h0M1681.1,447.0h0M1685.5,447.0h0M1689.9,447.2h0M1694.3,447.3h0M1698.7,447.4h0M1703.2,447.6h0M1707.6,447.8h0M1712.0,448.0h0M1716.4,448.2h0M1720.8,448.4h0M1725.2,448.7h0M1729.7,448.9h0M1734.1,449.2h0M1738.5,449.5h0M1742.9,449.8h0M1747.3,450.1h0M1751.7,450.4h0M1756.1,450.7h0M1760.6,451.0h0M1765.0,451.3h0M1769.4,451.6h0M1773.8,451.9h0M1778.2,452.2h0M1782.6,452.5h0M1787.1,452.8h0M1791.5,453.1h0M1795.9,453.3h0M1800.3,453.6h0M1804.7,453.9h0M1809.1,454.1h0M1813.5,454.4h0M1818.0,454.6h0M1822.4,454.8h0M1826.8,455.0h0M1831.2,455.2h0M1835.6,455.4h0M1840.0,455.6h0M1844.5,455.7h0M1848.9,455.8h0M1853.3,455.9h0M1857.7,456.0h0M1862.1,456.0h0M1866.5,456.1h0M1870.9,456.1h0M1875.4,456.1h0M1879.8,456.1h0M1884.2,456.0h0M1888.6,456.0h0M1893.0,456.0h0M1897.4,455.9h0M1901.9,455.8h0M1906.3,455.8h0M1910.7,455.7h0M1915.1,455.6h0M1919.5,455.5h0M1923.9,455.4h0M1928.3,455.3h0M1932.8,455.2h0M1937.2,455.1h0" stroke="#698ed0" stroke-width="15" stroke-linecap="round" fill="none"/>
<path d="M1230.7,597.2h0M1235.1,595.0h0M1239.5,592.7h0M1243.9,590.5h0M1248.4,588.3h0M1252.8,586.1h0M1257.2,583.9h0M1261.6,581.7h0M1266.0,579.5h0M1270.4,577.3h0M1274.9,575.1h0M1279.3,573.0h0M1283.7,570.9h0M1288.1,568.7h0M1292.5,566.6h0M1296.9,564.5h0M1301.3,562.5h0M1305.8,560.4h0M1310.2,558.4h0M1314.6,556.4h0M1319.0,554.4h0M1323.4,552.5h0M1327.8,550.5h0M1332.3,548.6h0M1336.7,546.8h0M1341.1,544.9h0M1345.5,543.1h0M1349.9,541.3h0M1354.3,539.5h0M1358.7,537.7h0M1363.2,536.0h0M1367.6,534.3h0M1372.0,532.6h0M1376.4,530.9h0M1380.8,529.3h0M1385.2,527.7h0M1389.7,526.1h0M1394.1,524.5h0M1398.5,522.9h0M1402.9,521.3h0M1407.3,519.8h0M1411.7,518.3h0M1416.2,516.8h0M1420.6,515.3h0M1425.0,513.9h0M1429.4,512.4h0M1433.8,511.0h0M1438.2,509.6h0M1442.6,508.3h0M1447.1,507.0h0M1451.5,505.7h0M1455.9,504.4h0M1460.3,503.2h0M1464.7,502.0h0M1469.1,500.9h0M1473.6,499.8h0M1478.0,498.7h0M1482.4,497.7h0M1486.8,496.7h0M1491.2,495.8h0M1495.6,494.9h0M1500.0,494.0h0M1504.5,493.3h0M1508.9,492.5h0M1513.3,491.8h0M1517.7,491.2h0M1522.1,490.6h0M1526.5,490.0h0M1531.0,489.5h0M1535.4,489.0h0M1539.8,488.5h0M1544.2,488.1h0M1548.6,487.8h0M1553.0,487.4h0M1557.4,487.1h0M1561.9,486.9h0M1566.3,486.6h0M1570.7,486.4h0M1575.1,486.2h0M1579.5,486.1h0M1583.9,485.9h0M1588.4,485.8h0M1592.8,485.8h0M1597.2,485.7h0M1601.6,485.7h0M1606.0,485.7h0M1610.4,485.7h0M1614.8,485.7h0M1619.3,485.7h0M1623.7,485.8h0M1628.1,485.8h0M1632.5,485.9h0M1636.9,486.0h0M1641.3,486.1h0M1645.8,486.2h0M1650.2,486.4h0M1654.6,486.5h0M1659.0,486.6h0M1663.4,486.8h0M1667.8,486.9h0M1672.2,487.1h0M1676.7,487.2h0M1681.1,487.4h0M1685.5,487.5h0M1689.9,487.7h0M1694.3,487.8h0M1698.7,488.0h0M1703.2,488.1h0M1707.6,488.3h0M1712.0,488.5h0M1716.4,488.6h0M1720.8,488.8h0M1725.2,489.0h0M1729.7,489.1h0M1734.1,489.3h0M1738.5,489.5h0M1742.9,489.7h0M1747.3,489.8h0M1751.7,490.0h0M1756.1,490.2h0M1760.6,490.4h0M1765.0,490.6h0M1769.4,490.8h0M1773.8,491.0h0M1778.2,491.2h0M1782.6,491.4h0M1787.1,491.6h0M1791.5,491.7h0M1795.9,491.9h0M1800.3,492.1h0M1804.7,492.2h0M1809.1,492.4h0M1813.5,492.5h0M1818.0,492.7h0M1822.4,492.8h0M1826.8,492.8h0M1831.2,492.9h0M1835.6,493.0h0M1840.0,493.0h0M1844.5,493.0h0M1848.9,493.0h0M1853.3,493.0h0M1857.7,492.9h0M1862.1,492.8h0M1866.5,492.7h0M1870.9,492.6h0M1875.4,492.5h0M1879.8,492.3h0M1884.2,492.1h0M1888.6,492.0h0M1893.0,491.8h0M1897.4,491.6h0M1901.9,491.3h0M1906.3,491.1h0M1910.7,490.9h0M1915.1,490.6h0M1919.5,490.3h0M1923.9,490.1h0M1928.3,489.8h0M1932.8,489.6h0M1937.2,489.3h0" stroke="#f1975a" stroke-width="15" stroke-linecap="round" fill="none"/>
<path d="M1230.7,597.2h0M1235.1,595.4h0M1239.5,593.5h0M1243.9,591.7h0M1248.4,589.9h0M1252.8,588.1h0M1257.2,586.3h0M1261.6,584.5h0M1266.0,582.7h0M1270.4,580.9h0M1274.9,579.1h0M1279.3,577.4h0M1283.7,575.6h0M1288.1,573.9h0M1292.5,572.2h0M1296.9,570.4h0M1301.3,568.8h0M1305.8,567.1h0M1310.2,565.4h0M1314.6,563.8h0M1319.0,562.2h0M1323.4,560.6h0M1327.8,559.1h0M1332.3,557.6h0M1336.7,556.1h0M1341.1,554.6h0M1345.5,553.1h0M1349.9,551.7h0M1354.3,550.3h0M1358.7,549.0h0M1363.2,547.6h0M1367.6,546.3h0M1372.0,545.1h0M1376.4,543.8h0M1380.8,542.6h0M1385.2,541.5h0M1389.7,540.3h0M1394.1,539.2h0M1398.5,538.2h0M1402.9,537.2h0M1407.3,536.2h0M1411.7,535.2h0M1416.2,534.3h0M1420.6,533.5h0M1425.0,532.6h0M1429.4,531.8h0M1433.8,531.1h0M1438.2,530.4h0M1442.6,529.7h0M1447.1,529.0h0M1451.5,528.4h0M1455.9,527.8h0M1460.3,527.2h0M1464.7,526.7h0M1469.1,526.2h0M1473.6,525.8h0M1478.0,525.3h0M1482.4,524.9h0M1486.8,524.6h0M1491.2,524.2h0M1495.6,523.9h0M1500.0,523.6h0M1504.5,523.3h0M1508.9,523.1h0M1513.3,522.9h0M1517.7,522.7h0M1522.1,522.5h0M1526.5,522.4h0M1531.0,522.2h0M1535.4,522.1h0M1539.8,522.0h0M1544.2,522.0h0M1548.6,521.9h0M1553.0,521.9h0M1557.4,521.9h0M1561.9,521.9h0M1566.3,521.9h0M1570.7,521.9h0M1575.1,521.9h0M1579.5,522.0h0M1583.9,522.0h0M1588.4,522.1h0M1592.8,522.2h0M1597.2,522.3h0M1601.6,522.4h0M1606.0,522.5h0M1610.4,522.6h0M1614.8,522.7h0M1619.3,522.8h0M1623.7,522.9h0M1628.1,523.0h0M1632.5,523.2h0M1636.9,523.3h0M1641.3,523.4h0M1645.8,523.6h0M1650.2,523.7h0M1654.6,523.8h0M1659.0,523.9h0M1663.4,524.0h0M1667.8,524.2h0M1672.2,524.3h0M1676.7,524.4h0M1681.1,524.5h0M1685.5,524.6h0M1689.9,524.7h0M1694.3,524.7h0M1698.7,524.8h0M1703.2,524.9h0M1707.6,525.0h0M1712.0,525.1h0M1716.4,525.2h0M1720.8,525.2h0M1725.2,525.3h0M1729.7,525.4h0M1734.1,525.5h0M1738.5,525.6h0M1742.9,525.7h0M1747.3,525.8h0M1751.7,525.9h0M1756.1,526.0h0M1760.6,526.1h0M1765.0,526.3h0M1769.4,526.4h0M1773.8,526.5h0M1778.2,526.7h0M1782.6,526.8h0M1787.1,526.9h0M1791.5,527.1h0M1795.9,527.2h0M1800.3,527.4h0M1804.7,527.5h0M1809.1,527.6h0M1813.5,527.7h0M1818.0,527.8h0M1822.4,527.9h0M1826.8,527.9h0M1831.2,528.0h0M1835.6,528.0h0M1840.0,528.0h0M1844.5,528.0h0M1848.9,528.0h0M1853.3,527.9h0M1857.7,527.9h0M1862.1,527.8h0M1866.5,527.6h0M1870.9,527.5h0M1875.4,527.3h0M1879.8,527.2h0M1884.2,527.0h0M1888.6,526.8h0M1893.0,526.5h0M1897.4,526.3h0M1901.9,526.1h0M1906.3,525.8h0M1910.7,525.6h0M1915.1,525.3h0M1919.5,525.0h0M1923.9,524.7h0M1928.3,524.5h0M1932.8,524.2h0M1937.2,523.9h0" stroke="#b7b7b7" stroke-width="15" stroke-linecap="round" fill="none"/>
<path d="M1230.7,597.2h0M1235.1,595.8h0M1239.5,594.5h0M1243.9,593.1h0M1248.4,591.7h0M1252.8,590.4h0M1257.2,589.1h0M1261.6,587.7h0M1266.0,586.4h0M1270.4,585.1h0M1274.9,583.8h0M1279.3,582.5h0M1283.7,581.2h0M1288.1,580.0h0M1292.5,578.8h0M1296.9,577.6h0M1301.3,576.4h0M1305.8,575.2h0M1310.2,574.1h0M1314.6,573.0h0M1319.0,571.9h0M1323.4,570.9h0M1327.8,569.8h0M1332.3,568.8h0M1336.7,567.9h0M1341.1,567.0h0M1345.5,566.1h0M1349.9,565.2h0M1354.3,564.4h0M1358.7,563.5h0M1363.2,562.7h0M1367.6,562.0h0M1372.0,561.3h0M1376.4,560.5h0M1380.8,559.9h0M1385.2,559.2h0M1389.7,558.6h0M1394.1,558.0h0M1398.5,557.4h0M1402.9,556.8h0M1407.3,556.3h0M1411.7,555.8h0M1416.2,555.3h0M1420.6,554.8h0M1425.0,554.3h0M1429.4,553.9h0M1433.8,553.5h0M1438.2,553.1h0M1442.6,552.8h0M1447.1,552.4h0M1451.5,552.1h0M1455.9,551.8h0M1460.3,551.5h0M1464.7,551.2h0M1469.1,551.0h0M1473.6,550.8h0M1478.0,550.6h0M1482.4,550.4h0M1486.8,550.2h0M1491.2,550.1h0M1495.6,549.9h0M1500.0,549.8h0M1504.5,549.7h0M1508.9,549.7h0M1513.3,549.6h0M1517.7,549.5h0M1522.1,549.5h0M1526.5,549.5h0M1531.0,549.5h0M1535.4,549.5h0M1539.8,549.5h0M1544.2,549.5h0M1548.6,549.5h0M1553.0,549.6h0M1557.4,549.6h0M1561.9,549.7h0M1566.3,549.7h0M1570.7,549.8h0M1575.1,549.8h0M1579.5,549.9h0M1583.9,549.9h0M1588.4,550.0h0M1592.8,550.1h0M1597.2,550.1h0M1601.6,550.2h0M1606.0,550.3h0M1610.4,550.3h0M1614.8,550.4h0M1619.3,550.4h0M1623.7,550.5h0M1628.1,550.6h0M1632.5,550.6h0M1636.9,550.7h0M1641.3,550.7h0M1645.8,550.8h0M1650.2,550.8h0M1654.6,550.9h0M1659.0,550.9h0M1663.4,551.0h0M1667.8,551.0h0M1672.2,551.1h0M1676.7,551.1h0M1681.1,551.1h0M1685.5,551.2h0M1689.9,551.2h0M1694.3,551.2h0M1698.7,551.3h0M1703.2,551.3h0M1707.6,551.3h0M1712.0,551.4h0M1716.4,551.4h0M1720.8,551.4h0M1725.2,551.5h0M1729.7,551.5h0M1734.1,551.5h0M1738.5,551.6h0M1742.9,551.6h0M1747.3,551.7h0M1751.7,551.7h0M1756.1,551.8h0M1760.6,551.8h0M1765.0,551.9h0M1769.4,551.9h0M1773.8,552.0h0M1778.2,552.0h0M1782.6,552.1h0M1787.1,552.1h0M1791.5,552.2h0M1795.9,552.3h0M1800.3,552.3h0M1804.7,552.4h0M1809.1,552.4h0M1813.5,552.4h0M1818.0,552.5h0M1822.4,552.5h0M1826.8,552.5h0M1831.2,552.6h0M1835.6,552.6h0M1840.0,552.6h0M1844.5,552.6h0M1848.9,552.5h0M1853.3,552.5h0M1857.7,552.5h0M1862.1,552.4h0M1866.5,552.4h0M1870.9,552.3h0M1875.4,552.2h0M1879.8,552.2h0M1884.2,552.1h0M1888.6,552.0h0M1893.0,551.9h0M1897.4,551.8h0M1901.9,551.7h0M1906.3,551.6h0M1910.7,551.4h0M1915.1,551.3h0M1919.5,551.2h0M1923.9,551.1h0M1928.3,550.9h0M1932.8,550.8h0M1937.2,550.7h0" stroke="#ffcd33" stroke-width="15" stroke-linecap="round" fill="none"/>
<path d="M1230.7,597.2h0M1235.1,596.2h0M1239.5,595.2h0M1243.9,594.3h0M1248.4,593.3h0M1252.8,592.3h0M1257.2,591.3h0M1261.6,590.4h0M1266.0,589.4h0M1270.4,588.5h0M1274.9,587.6h0M1279.3,586.7h0M1283.7,585.8h0M1288.1,584.9h0M1292.5,584.0h0M1296.9,583.2h0M1301.3,582.4h0M1305.8,581.6h0M1310.2,580.8h0M1314.6,580.1h0M1319.0,579.3h0M1323.4,578.6h0M1327.8,578.0h0M1332.3,577.3h0M1336.7,576.7h0M1341.1,576.1h0M1345.5,575.6h0M1349.9,575.0h0M1354.3,574.5h0M1358.7,574.0h0M1363.2,573.5h0M1367.6,573.1h0M1372.0,572.7h0M1376.4,572.3h0M1380.8,571.9h0M1385.2,571.5h0M1389.7,571.2h0M1394.1,570.9h0M1398.5,570.6h0M1402.9,570.3h0M1407.3,570.0h0M1411.7,569.8h0M1416.2,569.6h0M1420.6,569.4h0M1425.0,569.2h0M1429.4,569.0h0M1433.8,568.9h0M1438.2,568.7h0M1442.6,568.6h0M1447.1,568.5h0M1451.5,568.4h0M1455.9,568.3h0M1460.3,568.2h0M1464.7,568.1h0M1469.1,568.1h0M1473.6,568.0h0M1478.0,568.0h0M1482.4,567.9h0M1486.8,567.9h0M1491.2,567.8h0M1495.6,567.8h0M1500.0,567.8h0M1504.5,567.7h0M1508.9,567.7h0M1513.3,567.7h0M1517.7,567.7h0M1522.1,567.7h0M1526.5,567.7h0M1531.0,567.6h0M1535.4,567.6h0M1539.8,567.6h0M1544.2,567.6h0M1548.6,567.6h0M1553.0,567.6h0M1557.4,567.7h0M1561.9,567.7h0M1566.3,567.7h0M1570.7,567.7h0M1575.1,567.7h0M1579.5,567.8h0M1583.9,567.8h0M1588.4,567.8h0M1592.8,567.9h0M1597.2,567.9h0M1601.6,568.0h0M1606.0,568.0h0M1610.4,568.1h0M1614.8,568.1h0M1619.3,568.2h0M1623.7,568.3h0M1628.1,568.3h0M1632.5,568.4h0M1636.9,568.4h0M1641.3,568.5h0M1645.8,568.6h0M1650.2,568.6h0M1654.6,568.7h0M1659.0,568.7h0M1663.4,568.8h0M1667.8,568.9h0M1672.2,568.9h0M1676.7,569.0h0M1681.1,569.0h0M1685.5,569.1h0M1689.9,569.1h0M1694.3,569.2h0M1698.7,569.2h0M1703.2,569.3h0M1707.6,569.3h0M1712.0,569.3h0M1716.4,569.4h0M1720.8,569.4h0M1725.2,569.4h0M1729.7,569.5h0M1734.1,569.5h0M1738.5,569.5h0M1742.9,569.6h0M1747.3,569.6h0M1751.7,569.6h0M1756.1,569.6h0M1760.6,569.7h0M1765.0,569.7h0M1769.4,569.7h0M1773.8,569.7h0M1778.2,569.7h0M1782.6,569.8h0M1787.1,569.8h0M1791.5,569.8h0M1795.9,569.8h0M1800.3,569.8h0M1804.7,569.8h0M1809.1,569.8h0M1813.5,569.8h0M1818.0,569.8h0M1822.4,569.8h0M1826.8,569.8h0M1831.2,569.8h0M1835.6,569.7h0M1840.0,569.7h0M1844.5,569.7h0M1848.9,569.7h0M1853.3,569.6h0M1857.7,569.6h0M1862.1,569.6h0M1866.5,569.5h0M1870.9,569.5h0M1875.4,569.4h0M1879.8,569.4h0M1884.2,569.3h0M1888.6,569.3h0M1893.0,569.2h0M1897.4,569.1h0M1901.9,569.1h0M1906.3,569.0h0M1910.7,569.0h0M1915.1,568.9h0M1919.5,568.8h0M1923.9,568.8h0M1928.3,568.7h0M1932.8,568.6h0M1937.2,568.5h0" stroke="#7cafdd" stroke-width="15" stroke-linecap="round" fill="none"/>
<text class="b" x="1868.8" y="116.2" font-size="30" fill="#595959" font-style="italic" textLength="17.0" lengthAdjust="spacingAndGlyphs" stroke="#595959" stroke-width="0.25">V</text>
<text class="b" x="1886.5" y="123.0" font-size="21" fill="#595959" font-style="italic" textLength="13.0" lengthAdjust="spacingAndGlyphs" stroke="#595959" stroke-width="0.25">G</text>
<text class="b" x="1911.0" y="116.2" font-size="30" fill="#595959" textLength="20.0" lengthAdjust="spacingAndGlyphs" stroke="#595959" stroke-width="0.25">=</text>
<text class="b" x="1945.0" y="116.2" font-size="30" fill="#595959" textLength="21.0" lengthAdjust="spacingAndGlyphs" stroke="#595959" stroke-width="0.25">−</text>
<text class="b" x="1968.0" y="116.2" font-size="30" fill="#595959" textLength="39.5" lengthAdjust="spacingAndGlyphs" stroke="#595959" stroke-width="0.25">0.2</text>
<text class="b" x="1949.1" y="593.1" font-size="30" fill="#595959" font-style="italic" textLength="17.0" lengthAdjust="spacingAndGlyphs" stroke="#595959" stroke-width="0.25">V</text>
<text class="b" x="1966.8" y="600.0" font-size="21" fill="#595959" font-style="italic" textLength="13.0" lengthAdjust="spacingAndGlyphs" stroke="#595959" stroke-width="0.25">G</text>
<text class="b" x="1991.0" y="593.1" font-size="30" fill="#595959" textLength="20.0" lengthAdjust="spacingAndGlyphs" stroke="#595959" stroke-width="0.25">=</text>
<text class="b" x="2025.0" y="593.1" font-size="30" fill="#595959" textLength="41.0" lengthAdjust="spacingAndGlyphs" stroke="#595959" stroke-width="0.25">0.6</text>
<path d="M1951,131.5 C2003,300 2008,400 1958,541" fill="none" stroke="#7f7f7f" stroke-width="4"/>
<path d="M1949.5,554.5 L1947.5,535 L1966.5,541.5 Z" fill="#7f7f7f"/>
</g>
<g id="panelC">
<text class="a" x="23.5" y="700.0" font-size="64" textLength="58.0" lengthAdjust="spacingAndGlyphs" stroke="#000" stroke-width="0.9">C)</text>
<path d="M195.0,787.1 V1326.8 H914.1 M195.0,1326.8 h10.5 M195.0,1249.7 h10.5 M195.0,1172.6 h10.5 M195.0,1095.5 h10.5 M195.0,1018.4 h10.5 M195.0,941.3 h10.5 M195.0,864.2 h10.5 M195.0,787.1 h10.5 M374.8,1326.8 v-10 M554.6,1326.8 v-10 M734.3,1326.8 v-10 M914.1,1326.8 v-10" fill="none" stroke="#d9d9d9" stroke-width="2"/>
<text class="a" x="161.1" y="1335.7" font-size="29.3" fill="#595959" text-anchor="end" stroke="#595959" stroke-width="0.45">0</text>
<text class="a" x="161.1" y="1258.6" font-size="29.3" fill="#595959" text-anchor="end" stroke="#595959" stroke-width="0.45">0.2</text>
<text class="a" x="161.1" y="1181.5" font-size="29.3" fill="#595959" text-anchor="end" stroke="#595959" stroke-width="0.45">0.4</text>
<text class="a" x="161.1" y="1104.4" font-size="29.3" fill="#595959" text-anchor="end" stroke="#595959" stroke-width="0.45">0.6</text>
<text class="a" x="161.1" y="1027.3" font-size="29.3" fill="#595959" text-anchor="end" stroke="#595959" stroke-width="0.45">0.8</text>
<text class="a" x="161.1" y="950.2" font-size="29.3" fill="#595959" text-anchor="end" stroke="#595959" stroke-width="0.45">1</text>
<text class="a" x="161.1" y="873.1" font-size="29.3" fill="#595959" text-anchor="end" stroke="#595959" stroke-width="0.45">1.2</text>
<text class="a" x="161.1" y="796.0" font-size="29.3" fill="#595959" text-anchor="end" stroke="#595959" stroke-width="0.45">1.4</text>
<text class="a" x="195.0" y="1380.8" font-size="29.3" fill="#595959" text-anchor="middle" stroke="#595959" stroke-width="0.45">-0.2</text>
<text class="a" x="374.8" y="1380.8" font-size="29.3" fill="#595959" text-anchor="middle" stroke="#595959" stroke-width="0.45">0</text>
<text class="a" x="554.6" y="1380.8" font-size="29.3" fill="#595959" text-anchor="middle" stroke="#595959" stroke-width="0.45">0.2</text>
<text class="a" x="734.3" y="1380.8" font-size="29.3" fill="#595959" text-anchor="middle" stroke="#595959" stroke-width="0.45">0.4</text>
<text class="a" x="914.1" y="1380.8" font-size="29.3" fill="#595959" text-anchor="middle" stroke="#595959" stroke-width="0.45">0.6</text>
<polyline points="195.0,1296.0 202.5,1255.8 210.0,1231.2 217.5,1209.4 225.0,1185.6 232.5,1160.2 240.0,1137.9 247.5,1114.9 255.0,1092.3 262.5,1072.0 269.9,1053.2 277.4,1035.4 284.9,1018.4 292.4,1002.1 299.9,986.7 307.4,972.1 314.9,958.3 322.4,945.2 329.9,933.6 337.4,923.6 344.8,914.8 352.3,906.6 359.8,898.6 367.3,891.2 374.8,885.4 382.3,880.9 389.8,876.9 397.3,873.5 404.8,870.8 412.2,868.9 419.7,867.4 427.2,866.0 434.7,864.9 442.2,864.3 449.7,864.3 457.2,865.0 464.7,866.3 472.2,868.0 479.7,869.9 487.1,872.2 494.6,875.3 502.1,879.3 509.6,883.7 517.1,888.3 524.6,893.2 532.1,898.6 539.6,904.5 547.1,910.6 554.6,917.0 562.0,923.6 569.5,930.6 577.0,937.9 584.5,945.4 592.0,952.9 599.5,960.6 607.0,968.4 614.5,976.5 622.0,984.7 629.5,993.0 637.0,1001.0 644.4,1008.8 651.9,1016.2 659.4,1023.5 666.9,1030.6 674.4,1037.6 681.9,1044.4 689.4,1051.2 696.9,1057.8 704.4,1064.2 711.8,1070.5 719.3,1076.8 726.8,1082.9 734.3,1088.9 741.8,1095.0 749.3,1100.9 756.8,1106.8 764.3,1112.6 771.8,1118.2 779.3,1123.6 786.8,1128.9 794.2,1133.9 801.7,1138.9 809.2,1143.7 816.7,1148.4 824.2,1152.9 831.7,1157.4 839.2,1161.8 846.7,1166.0 854.2,1170.2 861.7,1174.3 869.1,1178.4 876.6,1182.4 884.1,1186.3 891.6,1190.2 899.1,1194.1 906.6,1197.8 914.1,1201.5" fill="none" stroke="#a5a5a5" stroke-width="3.5" stroke-linejoin="round"/>
<path d="M195.0,1296.0h0M202.5,1255.8h0M210.0,1231.2h0M217.5,1209.4h0M225.0,1185.6h0M232.5,1160.2h0M240.0,1137.9h0M247.5,1114.9h0M255.0,1092.3h0M262.5,1072.0h0M269.9,1053.2h0M277.4,1035.4h0M284.9,1018.4h0M292.4,1002.1h0M299.9,986.7h0M307.4,972.1h0M314.9,958.3h0M322.4,945.2h0M329.9,933.6h0M337.4,923.6h0M344.8,914.8h0M352.3,906.6h0M359.8,898.6h0M367.3,891.2h0M374.8,885.4h0M382.3,880.9h0M389.8,876.9h0M397.3,873.5h0M404.8,870.8h0M412.2,868.9h0M419.7,867.4h0M427.2,866.0h0M434.7,864.9h0M442.2,864.3h0M449.7,864.3h0M457.2,865.0h0M464.7,866.3h0M472.2,868.0h0M479.7,869.9h0M487.1,872.2h0M494.6,875.3h0M502.1,879.3h0M509.6,883.7h0M517.1,888.3h0M524.6,893.2h0M532.1,898.6h0M539.6,904.5h0M547.1,910.6h0M554.6,917.0h0M562.0,923.6h0M569.5,930.6h0M577.0,937.9h0M584.5,945.4h0M592.0,952.9h0M599.5,960.6h0M607.0,968.4h0M614.5,976.5h0M622.0,984.7h0M629.5,993.0h0M637.0,1001.0h0M644.4,1008.8h0M651.9,1016.2h0M659.4,1023.5h0M666.9,1030.6h0M674.4,1037.6h0M681.9,1044.4h0M689.4,1051.2h0M696.9,1057.8h0M704.4,1064.2h0M711.8,1070.5h0M719.3,1076.8h0M726.8,1082.9h0M734.3,1088.9h0M741.8,1095.0h0M749.3,1100.9h0M756.8,1106.8h0M764.3,1112.6h0M771.8,1118.2h0M779.3,1123.6h0M786.8,1128.9h0M794.2,1133.9h0M801.7,1138.9h0M809.2,1143.7h0M816.7,1148.4h0M824.2,1152.9h0M831.7,1157.4h0M839.2,1161.8h0M846.7,1166.0h0M854.2,1170.2h0M861.7,1174.3h0M869.1,1178.4h0M876.6,1182.4h0M884.1,1186.3h0M891.6,1190.2h0M899.1,1194.1h0M906.6,1197.8h0M914.1,1201.5h0" stroke="#a5a5a5" stroke-width="22.2" stroke-linecap="round" fill="none"/>
<polyline points="195.0,1253.6 202.5,1235.2 210.0,1212.9 217.5,1193.5 225.0,1176.1 232.5,1158.6 240.0,1143.7 247.5,1129.3 255.0,1115.8 262.5,1104.0 269.9,1092.9 277.4,1082.9 284.9,1074.3 292.4,1066.9 299.9,1060.4 307.4,1055.0 314.9,1050.5 322.4,1046.6 329.9,1043.5 337.4,1040.8 344.8,1038.6 352.3,1036.9 359.8,1035.6 367.3,1034.5 374.8,1033.8 382.3,1033.3 389.8,1032.9 397.3,1032.7 404.8,1032.7 412.2,1033.1 419.7,1033.7 427.2,1034.4 434.7,1035.3 442.2,1036.4 449.7,1037.8 457.2,1039.2 464.7,1040.8 472.2,1042.4 479.7,1044.2 487.1,1046.2 494.6,1048.2 502.1,1050.3 509.6,1052.3 517.1,1054.4 524.6,1056.5 532.1,1058.7 539.6,1060.9 547.1,1063.1 554.6,1065.4 562.0,1067.7 569.5,1070.1 577.0,1072.5 584.5,1075.0 592.0,1077.5 599.5,1080.1 607.0,1082.7 614.5,1085.4 622.0,1088.2 629.5,1091.1 637.0,1094.1 644.4,1097.4 651.9,1101.0 659.4,1105.0 666.9,1109.2 674.4,1113.6 681.9,1118.1 689.4,1122.5 696.9,1126.9 704.4,1131.4 711.8,1136.0 719.3,1140.7 726.8,1145.5 734.3,1150.2 741.8,1155.1 749.3,1160.2 756.8,1165.2 764.3,1170.3 771.8,1175.4 779.3,1180.3 786.8,1185.2 794.2,1190.1 801.7,1195.0 809.2,1199.7 816.7,1204.2 824.2,1208.5 831.7,1212.5 839.2,1216.6 846.7,1220.5 854.2,1224.0 861.7,1227.2 869.1,1229.7 876.6,1231.8 884.1,1233.7 891.6,1235.0 899.1,1235.6 906.6,1235.9 914.1,1236.0" fill="none" stroke="#ffc000" stroke-width="3.5" stroke-linejoin="round"/>
<path d="M195.0,1253.6h0M202.5,1235.2h0M210.0,1212.9h0M217.5,1193.5h0M225.0,1176.1h0M232.5,1158.6h0M240.0,1143.7h0M247.5,1129.3h0M255.0,1115.8h0M262.5,1104.0h0M269.9,1092.9h0M277.4,1082.9h0M284.9,1074.3h0M292.4,1066.9h0M299.9,1060.4h0M307.4,1055.0h0M314.9,1050.5h0M322.4,1046.6h0M329.9,1043.5h0M337.4,1040.8h0M344.8,1038.6h0M352.3,1036.9h0M359.8,1035.6h0M367.3,1034.5h0M374.8,1033.8h0M382.3,1033.3h0M389.8,1032.9h0M397.3,1032.7h0M404.8,1032.7h0M412.2,1033.1h0M419.7,1033.7h0M427.2,1034.4h0M434.7,1035.3h0M442.2,1036.4h0M449.7,1037.8h0M457.2,1039.2h0M464.7,1040.8h0M472.2,1042.4h0M479.7,1044.2h0M487.1,1046.2h0M494.6,1048.2h0M502.1,1050.3h0M509.6,1052.3h0M517.1,1054.4h0M524.6,1056.5h0M532.1,1058.7h0M539.6,1060.9h0M547.1,1063.1h0M554.6,1065.4h0M562.0,1067.7h0M569.5,1070.1h0M577.0,1072.5h0M584.5,1075.0h0M592.0,1077.5h0M599.5,1080.1h0M607.0,1082.7h0M614.5,1085.4h0M622.0,1088.2h0M629.5,1091.1h0M637.0,1094.1h0M644.4,1097.4h0M651.9,1101.0h0M659.4,1105.0h0M666.9,1109.2h0M674.4,1113.6h0M681.9,1118.1h0M689.4,1122.5h0M696.9,1126.9h0M704.4,1131.4h0M711.8,1136.0h0M719.3,1140.7h0M726.8,1145.5h0M734.3,1150.2h0M741.8,1155.1h0M749.3,1160.2h0M756.8,1165.2h0M764.3,1170.3h0M771.8,1175.4h0M779.3,1180.3h0M786.8,1185.2h0M794.2,1190.1h0M801.7,1195.0h0M809.2,1199.7h0M816.7,1204.2h0M824.2,1208.5h0M831.7,1212.5h0M839.2,1216.6h0M846.7,1220.5h0M854.2,1224.0h0M861.7,1227.2h0M869.1,1229.7h0M876.6,1231.8h0M884.1,1233.7h0M891.6,1235.0h0M899.1,1235.6h0M906.6,1235.9h0M914.1,1236.0h0" stroke="#ffc000" stroke-width="22.2" stroke-linecap="round" fill="none"/>
<polyline points="195.0,1325.4 207.9,1292.9 220.7,1266.1 233.6,1242.0 246.4,1222.9 259.2,1204.6 272.1,1192.3 284.9,1181.1 297.8,1172.6 310.6,1165.3 323.4,1160.3 336.3,1158.0 349.1,1158.0 362.0,1158.7 374.8,1161.0 387.6,1164.0 400.5,1167.6 413.3,1171.6 426.2,1176.2 439.0,1181.7 451.8,1188.0 464.7,1194.6 477.5,1201.4 490.4,1208.4 503.2,1215.4 516.0,1222.2 528.9,1229.0 541.7,1235.6 554.6,1241.6 567.4,1247.2 580.2,1252.4 593.1,1257.1 605.9,1261.4 618.8,1265.4 631.6,1269.0 644.4,1272.1 657.3,1274.6 670.1,1276.8 683.0,1278.8 695.8,1280.7 708.6,1282.5 721.5,1284.2 734.3,1285.9 747.2,1287.7 760.0,1289.4 772.8,1291.2 785.7,1293.1 798.5,1295.2 811.4,1297.3 824.2,1299.0 837.0,1300.5 849.9,1301.7 862.7,1302.6 875.6,1303.1 888.4,1303.4 901.2,1303.6 914.1,1303.7" fill="none" stroke="#ed7d31" stroke-width="3.5" stroke-linejoin="round"/>
<path d="M195.0,1325.4h0M207.9,1292.9h0M220.7,1266.1h0M233.6,1242.0h0M246.4,1222.9h0M259.2,1204.6h0M272.1,1192.3h0M284.9,1181.1h0M297.8,1172.6h0M310.6,1165.3h0M323.4,1160.3h0M336.3,1158.0h0M349.1,1158.0h0M362.0,1158.7h0M374.8,1161.0h0M387.6,1164.0h0M400.5,1167.6h0M413.3,1171.6h0M426.2,1176.2h0M439.0,1181.7h0M451.8,1188.0h0M464.7,1194.6h0M477.5,1201.4h0M490.4,1208.4h0M503.2,1215.4h0M516.0,1222.2h0M528.9,1229.0h0M541.7,1235.6h0M554.6,1241.6h0M567.4,1247.2h0M580.2,1252.4h0M593.1,1257.1h0M605.9,1261.4h0M618.8,1265.4h0M631.6,1269.0h0M644.4,1272.1h0M657.3,1274.6h0M670.1,1276.8h0M683.0,1278.8h0M695.8,1280.7h0M708.6,1282.5h0M721.5,1284.2h0M734.3,1285.9h0M747.2,1287.7h0M760.0,1289.4h0M772.8,1291.2h0M785.7,1293.1h0M798.5,1295.2h0M811.4,1297.3h0M824.2,1299.0h0M837.0,1300.5h0M849.9,1301.7h0M862.7,1302.6h0M875.6,1303.1h0M888.4,1303.4h0M901.2,1303.6h0M914.1,1303.7h0" stroke="#ed7d31" stroke-width="22.2" stroke-linecap="round" fill="none"/>
<polyline points="195.0,1279.0 207.9,1260.5 220.7,1247.0 233.6,1237.5 246.4,1230.8 259.2,1227.0 272.1,1224.6 284.9,1224.1 297.8,1225.2 310.6,1227.3 323.4,1230.2 336.3,1234.1 349.1,1238.6 362.0,1244.2 374.8,1249.8 387.6,1255.7 400.5,1261.7 413.3,1267.5 426.2,1272.6 439.0,1277.5 451.8,1281.9 464.7,1285.9 477.5,1289.5 490.4,1292.8 503.2,1295.7 516.0,1298.4 528.9,1300.8 541.7,1303.1 554.6,1305.2 567.4,1307.3 580.2,1309.4 593.1,1311.3 605.9,1313.0 618.8,1314.6 631.6,1316.0 644.4,1317.5 657.3,1319.1 670.1,1320.8 683.0,1322.3 695.8,1323.6 708.6,1325.1 721.5,1326.3 734.3,1326.8 747.2,1326.8 760.0,1326.8 772.8,1326.8 785.7,1326.8 798.5,1326.6 811.4,1326.3 824.2,1326.0 837.0,1325.7 849.9,1325.3 862.7,1325.0 875.6,1324.8 888.4,1324.6 901.2,1324.5 914.1,1324.5" fill="none" stroke="#4472c4" stroke-width="3.5" stroke-linejoin="round"/>
<path d="M195.0,1279.0h0M207.9,1260.5h0M220.7,1247.0h0M233.6,1237.5h0M246.4,1230.8h0M259.2,1227.0h0M272.1,1224.6h0M284.9,1224.1h0M297.8,1225.2h0M310.6,1227.3h0M323.4,1230.2h0M336.3,1234.1h0M349.1,1238.6h0M362.0,1244.2h0M374.8,1249.8h0M387.6,1255.7h0M400.5,1261.7h0M413.3,1267.5h0M426.2,1272.6h0M439.0,1277.5h0M451.8,1281.9h0M464.7,1285.9h0M477.5,1289.5h0M490.4,1292.8h0M503.2,1295.7h0M516.0,1298.4h0M528.9,1300.8h0M541.7,1303.1h0M554.6,1305.2h0M567.4,1307.3h0M580.2,1309.4h0M593.1,1311.3h0M605.9,1313.0h0M618.8,1314.6h0M631.6,1316.0h0M644.4,1317.5h0M657.3,1319.1h0M670.1,1320.8h0M683.0,1322.3h0M695.8,1323.6h0M708.6,1325.1h0M721.5,1326.3h0M734.3,1326.8h0M747.2,1326.8h0M760.0,1326.8h0M772.8,1326.8h0M785.7,1326.8h0M798.5,1326.6h0M811.4,1326.3h0M824.2,1326.0h0M837.0,1325.7h0M849.9,1325.3h0M862.7,1325.0h0M875.6,1324.8h0M888.4,1324.6h0M901.2,1324.5h0M914.1,1324.5h0" stroke="#4472c4" stroke-width="22.2" stroke-linecap="round" fill="none"/>
<g transform="translate(83.3,1103) rotate(-90)">
<text class="b" x="0.5" y="0.0" font-size="32.5" fill="#595959" stroke="#595959" stroke-width="0.25">|</text>
<text class="b" x="11.7" y="0.0" font-size="32.5" fill="#595959" font-style="italic" textLength="7.5" lengthAdjust="spacingAndGlyphs" stroke="#595959" stroke-width="0.25">I</text>
<text class="b" x="21.4" y="7.5" font-size="24.5" fill="#595959" font-style="italic" textLength="14.5" lengthAdjust="spacingAndGlyphs" stroke="#595959" stroke-width="0.25">D</text>
<text class="b" x="49.2" y="0.0" font-size="34" fill="#595959" textLength="14.5" lengthAdjust="spacingAndGlyphs">(</text>
<text class="b" x="62.0" y="0.0" font-size="32.5" fill="#595959" font-style="italic" textLength="47.6" lengthAdjust="spacingAndGlyphs" stroke="#595959" stroke-width="0.25">mA</text>
<text class="b" x="111.4" y="0.0" font-size="34" fill="#595959" textLength="15.2" lengthAdjust="spacingAndGlyphs">)</text>
<text class="b" x="129.5" y="0.0" font-size="32.5" fill="#595959" stroke="#595959" stroke-width="0.25">|</text>
</g>
<text class="b" x="510.1" y="1434.6" font-size="33.5" fill="#595959" font-style="italic" textLength="17.8" lengthAdjust="spacingAndGlyphs" stroke="#595959" stroke-width="0.25">V</text>
<text class="b" x="526.9" y="1441.6" font-size="25" fill="#595959" font-style="italic" textLength="15.8" lengthAdjust="spacingAndGlyphs" stroke="#595959" stroke-width="0.25">G</text>
<text class="b" x="553.8" y="1434.6" font-size="34" fill="#595959" textLength="14.5" lengthAdjust="spacingAndGlyphs">(</text>
<text class="b" x="568.0" y="1434.6" font-size="33.5" fill="#595959" font-style="italic" textLength="18.1" lengthAdjust="spacingAndGlyphs" stroke="#595959" stroke-width="0.25">V</text>
<text class="b" x="589.2" y="1434.6" font-size="34" fill="#595959" textLength="15.0" lengthAdjust="spacingAndGlyphs">)</text>
<path d="M661,791.4 H715" stroke="#a5a5a5" stroke-width="3.8" stroke-linecap="round"/>
<circle cx="687.8" cy="791.4" r="10.8" fill="#a5a5a5"/>
<text class="b" x="731.0" y="791.4" font-size="28" fill="#595959" font-style="italic" textLength="42.0" lengthAdjust="spacingAndGlyphs" letter-spacing="2" stroke="#595959" stroke-width="0.25">Wd</text>
<path d="M787.6,775.4 L773.8,808.4" stroke="#595959" stroke-width="2.3" fill="none"/>
<text class="b" x="787.6" y="811.7" font-size="28" fill="#595959" font-style="italic" textLength="14.0" lengthAdjust="spacingAndGlyphs" stroke="#595959" stroke-width="0.25">L</text>
<text class="b" x="810.0" y="802.5" font-size="33" fill="#595959" textLength="21.0" lengthAdjust="spacingAndGlyphs" stroke="#595959" stroke-width="0.25">≅</text>
<text class="b" x="842.0" y="801.0" font-size="29" fill="#595959" textLength="60.8" lengthAdjust="spacingAndGlyphs" stroke="#595959" stroke-width="0.25">1258</text>
<text class="b" x="909.0" y="801.0" font-size="29" fill="#595959" font-style="italic" textLength="40.0" lengthAdjust="spacingAndGlyphs" stroke="#595959" stroke-width="0.25">µm</text>
<path d="M661,852.6 H715" stroke="#ffc000" stroke-width="3.8" stroke-linecap="round"/>
<circle cx="687.8" cy="852.6" r="10.8" fill="#ffc000"/>
<text class="b" x="733.0" y="855.4" font-size="28" fill="#595959" font-style="italic" textLength="42.0" lengthAdjust="spacingAndGlyphs" letter-spacing="2" stroke="#595959" stroke-width="0.25">Wd</text>
<path d="M789.6,839.4 L775.8,872.4" stroke="#595959" stroke-width="2.3" fill="none"/>
<text class="b" x="789.6" y="875.7" font-size="28" fill="#595959" font-style="italic" textLength="14.0" lengthAdjust="spacingAndGlyphs" stroke="#595959" stroke-width="0.25">L</text>
<text class="b" x="812.0" y="866.5" font-size="33" fill="#595959" textLength="21.0" lengthAdjust="spacingAndGlyphs" stroke="#595959" stroke-width="0.25">≅</text>
<text class="b" x="843.0" y="865.0" font-size="29" fill="#595959" textLength="45.6" lengthAdjust="spacingAndGlyphs" stroke="#595959" stroke-width="0.25">600</text>
<text class="b" x="896.0" y="865.0" font-size="29" fill="#595959" font-style="italic" textLength="40.0" lengthAdjust="spacingAndGlyphs" stroke="#595959" stroke-width="0.25">µm</text>
<path d="M661,914.5 H715" stroke="#ed7d31" stroke-width="3.8" stroke-linecap="round"/>
<circle cx="687.8" cy="914.5" r="10.8" fill="#ed7d31"/>
<text class="b" x="733.0" y="911.9" font-size="28" fill="#595959" font-style="italic" textLength="42.0" lengthAdjust="spacingAndGlyphs" letter-spacing="2" stroke="#595959" stroke-width="0.25">Wd</text>
<path d="M789.6,895.9 L775.8,928.9" stroke="#595959" stroke-width="2.3" fill="none"/>
<text class="b" x="789.6" y="932.2" font-size="28" fill="#595959" font-style="italic" textLength="14.0" lengthAdjust="spacingAndGlyphs" stroke="#595959" stroke-width="0.25">L</text>
<text class="b" x="812.0" y="923.0" font-size="33" fill="#595959" textLength="21.0" lengthAdjust="spacingAndGlyphs" stroke="#595959" stroke-width="0.25">≅</text>
<text class="b" x="843.0" y="921.5" font-size="29" fill="#595959" textLength="45.6" lengthAdjust="spacingAndGlyphs" stroke="#595959" stroke-width="0.25">270</text>
<text class="b" x="896.0" y="921.5" font-size="29" fill="#595959" font-style="italic" textLength="40.0" lengthAdjust="spacingAndGlyphs" stroke="#595959" stroke-width="0.25">µm</text>
<path d="M661,975.9 H715" stroke="#4472c4" stroke-width="3.8" stroke-linecap="round"/>
<circle cx="687.8" cy="975.9" r="10.8" fill="#4472c4"/>
<text class="b" x="734.0" y="975.9" font-size="28" fill="#595959" font-style="italic" textLength="42.0" lengthAdjust="spacingAndGlyphs" letter-spacing="2" stroke="#595959" stroke-width="0.25">Wd</text>
<path d="M790.6,959.9 L776.8,992.9" stroke="#595959" stroke-width="2.3" fill="none"/>
<text class="b" x="790.6" y="996.2" font-size="28" fill="#595959" font-style="italic" textLength="14.0" lengthAdjust="spacingAndGlyphs" stroke="#595959" stroke-width="0.25">L</text>
<text class="b" x="813.0" y="987.0" font-size="33" fill="#595959" textLength="21.0" lengthAdjust="spacingAndGlyphs" stroke="#595959" stroke-width="0.25">≅</text>
<text class="b" x="844.0" y="985.5" font-size="29" fill="#595959" textLength="30.4" lengthAdjust="spacingAndGlyphs" stroke="#595959" stroke-width="0.25">25</text>
<text class="b" x="881.5" y="985.5" font-size="29" fill="#595959" font-style="italic" textLength="40.0" lengthAdjust="spacingAndGlyphs" stroke="#595959" stroke-width="0.25">µm</text>
</g>
<g id="panelD">
<text class="a" x="1065.3" y="698.2" font-size="64" textLength="60.0" lengthAdjust="spacingAndGlyphs" stroke="#000" stroke-width="0.9">D)</text>
<path d="M1230.3,723.2 V1326.0 H1971.5 M1230.3,1326.0 h10.5 M1230.3,1239.9 h10.5 M1230.3,1153.8 h10.5 M1230.3,1067.6 h10.5 M1230.3,981.5 h10.5 M1230.3,895.4 h10.5 M1230.3,809.3 h10.5 M1230.3,723.2 h10.5 M1415.6,1326.0 v-10 M1600.9,1326.0 v-10 M1786.2,1326.0 v-10 M1971.5,1326.0 v-10" fill="none" stroke="#d9d9d9" stroke-width="2"/>
<text class="a" x="1196.9" y="1334.9" font-size="29.3" fill="#595959" text-anchor="end" stroke="#595959" stroke-width="0.45">-3</text>
<text class="a" x="1196.9" y="1248.8" font-size="29.3" fill="#595959" text-anchor="end" stroke="#595959" stroke-width="0.45">-1</text>
<text class="a" x="1196.9" y="1162.7" font-size="29.3" fill="#595959" text-anchor="end" stroke="#595959" stroke-width="0.45">1</text>
<text class="a" x="1196.9" y="1076.5" font-size="29.3" fill="#595959" text-anchor="end" stroke="#595959" stroke-width="0.45">3</text>
<text class="a" x="1196.9" y="990.4" font-size="29.3" fill="#595959" text-anchor="end" stroke="#595959" stroke-width="0.45">5</text>
<text class="a" x="1196.9" y="904.3" font-size="29.3" fill="#595959" text-anchor="end" stroke="#595959" stroke-width="0.45">7</text>
<text class="a" x="1196.9" y="818.2" font-size="29.3" fill="#595959" text-anchor="end" stroke="#595959" stroke-width="0.45">9</text>
<text class="a" x="1196.9" y="732.1" font-size="29.3" fill="#595959" text-anchor="end" stroke="#595959" stroke-width="0.45">11</text>
<text class="a" x="1230.3" y="1380.8" font-size="29.3" fill="#595959" text-anchor="middle" stroke="#595959" stroke-width="0.45">-0.2</text>
<text class="a" x="1415.6" y="1380.8" font-size="29.3" fill="#595959" text-anchor="middle" stroke="#595959" stroke-width="0.45">0</text>
<text class="a" x="1600.9" y="1380.8" font-size="29.3" fill="#595959" text-anchor="middle" stroke="#595959" stroke-width="0.45">0.2</text>
<text class="a" x="1786.2" y="1380.8" font-size="29.3" fill="#595959" text-anchor="middle" stroke="#595959" stroke-width="0.45">0.4</text>
<text class="a" x="1971.5" y="1380.8" font-size="29.3" fill="#595959" text-anchor="middle" stroke="#595959" stroke-width="0.45">0.6</text>
<polyline points="1230.3,827.8 1238.0,839.8 1245.7,851.8 1253.5,863.8 1261.2,875.8 1268.9,887.8 1276.6,899.7 1284.3,911.7 1292.1,923.8 1299.8,935.8 1307.5,947.8 1315.2,959.6 1322.9,971.2 1330.7,982.6 1338.4,993.8 1346.1,1004.8 1353.8,1015.3 1361.6,1025.5 1369.3,1035.5 1377.0,1045.4 1384.7,1055.5 1392.4,1065.9 1400.2,1076.6 1407.9,1087.5 1415.6,1098.5 1423.3,1109.6 1431.0,1120.6 1438.8,1131.5 1446.5,1142.8 1454.2,1154.0 1461.9,1165.0 1469.6,1175.5 1477.4,1185.3 1485.1,1194.7 1492.8,1203.7 1500.5,1212.4 1508.2,1220.5 1516.0,1228.0 1523.7,1234.9 1531.4,1241.3 1539.1,1247.3 1546.9,1252.9 1554.6,1258.2 1562.3,1263.0 1570.0,1267.7 1577.7,1272.2 1585.5,1276.6 1593.2,1280.7 1600.9,1284.5 1608.6,1287.9 1616.3,1290.9 1624.1,1293.5 1631.8,1295.9 1639.5,1297.9 1647.2,1299.3 1654.9,1300.4 1662.7,1301.4 1670.4,1302.3 1678.1,1303.0 1685.8,1303.4 1693.5,1303.6 1701.3,1303.3 1709.0,1302.4 1716.7,1301.0 1724.4,1299.4 1732.2,1297.6 1739.9,1295.9 1747.6,1293.9 1755.3,1291.5 1763.0,1288.8 1770.8,1286.0 1778.5,1283.3 1786.2,1280.8 1793.9,1278.5 1801.6,1276.3 1809.4,1274.2 1817.1,1272.1 1824.8,1270.0 1832.5,1267.9 1840.2,1265.7 1848.0,1263.4 1855.7,1261.2 1863.4,1259.0 1871.1,1256.9 1878.8,1255.0 1886.6,1253.1 1894.3,1251.2 1902.0,1249.3 1909.7,1247.7 1917.5,1246.2 1925.2,1245.0 1932.9,1244.1 1940.6,1243.2 1948.3,1242.3 1956.1,1241.6 1963.8,1241.1 1971.5,1240.7" fill="none" stroke="#a5a5a5" stroke-width="3.5" stroke-linejoin="round"/>
<path d="M1230.3,827.8h0M1238.0,839.8h0M1245.7,851.8h0M1253.5,863.8h0M1261.2,875.8h0M1268.9,887.8h0M1276.6,899.7h0M1284.3,911.7h0M1292.1,923.8h0M1299.8,935.8h0M1307.5,947.8h0M1315.2,959.6h0M1322.9,971.2h0M1330.7,982.6h0M1338.4,993.8h0M1346.1,1004.8h0M1353.8,1015.3h0M1361.6,1025.5h0M1369.3,1035.5h0M1377.0,1045.4h0M1384.7,1055.5h0M1392.4,1065.9h0M1400.2,1076.6h0M1407.9,1087.5h0M1415.6,1098.5h0M1423.3,1109.6h0M1431.0,1120.6h0M1438.8,1131.5h0M1446.5,1142.8h0M1454.2,1154.0h0M1461.9,1165.0h0M1469.6,1175.5h0M1477.4,1185.3h0M1485.1,1194.7h0M1492.8,1203.7h0M1500.5,1212.4h0M1508.2,1220.5h0M1516.0,1228.0h0M1523.7,1234.9h0M1531.4,1241.3h0M1539.1,1247.3h0M1546.9,1252.9h0M1554.6,1258.2h0M1562.3,1263.0h0M1570.0,1267.7h0M1577.7,1272.2h0M1585.5,1276.6h0M1593.2,1280.7h0M1600.9,1284.5h0M1608.6,1287.9h0M1616.3,1290.9h0M1624.1,1293.5h0M1631.8,1295.9h0M1639.5,1297.9h0M1647.2,1299.3h0M1654.9,1300.4h0M1662.7,1301.4h0M1670.4,1302.3h0M1678.1,1303.0h0M1685.8,1303.4h0M1693.5,1303.6h0M1701.3,1303.3h0M1709.0,1302.4h0M1716.7,1301.0h0M1724.4,1299.4h0M1732.2,1297.6h0M1739.9,1295.9h0M1747.6,1293.9h0M1755.3,1291.5h0M1763.0,1288.8h0M1770.8,1286.0h0M1778.5,1283.3h0M1786.2,1280.8h0M1793.9,1278.5h0M1801.6,1276.3h0M1809.4,1274.2h0M1817.1,1272.1h0M1824.8,1270.0h0M1832.5,1267.9h0M1840.2,1265.7h0M1848.0,1263.4h0M1855.7,1261.2h0M1863.4,1259.0h0M1871.1,1256.9h0M1878.8,1255.0h0M1886.6,1253.1h0M1894.3,1251.2h0M1902.0,1249.3h0M1909.7,1247.7h0M1917.5,1246.2h0M1925.2,1245.0h0M1932.9,1244.1h0M1940.6,1243.2h0M1948.3,1242.3h0M1956.1,1241.6h0M1963.8,1241.1h0M1971.5,1240.7h0" stroke="#a5a5a5" stroke-width="22.2" stroke-linecap="round" fill="none"/>
<polyline points="1230.3,883.2 1238.0,906.2 1245.7,928.3 1253.5,949.2 1261.2,968.1 1268.9,986.7 1276.6,1004.3 1284.3,1020.2 1292.1,1035.2 1299.8,1050.4 1307.5,1066.9 1315.2,1082.0 1322.9,1094.6 1330.7,1106.0 1338.4,1116.3 1346.1,1125.8 1353.8,1134.5 1361.6,1142.8 1369.3,1150.5 1377.0,1157.7 1384.7,1164.1 1392.4,1169.7 1400.2,1174.9 1407.9,1179.7 1415.6,1184.1 1423.3,1187.9 1431.0,1191.1 1438.8,1193.7 1446.5,1195.9 1454.2,1197.8 1461.9,1199.6 1469.6,1201.2 1477.4,1202.9 1485.1,1204.5 1492.8,1206.0 1500.5,1207.4 1508.2,1208.9 1516.0,1210.5 1523.7,1212.2 1531.4,1214.1 1539.1,1216.1 1546.9,1218.2 1554.6,1220.1 1562.3,1222.0 1570.0,1223.8 1577.7,1225.6 1585.5,1227.4 1593.2,1229.1 1600.9,1230.8 1608.6,1232.4 1616.3,1233.9 1624.1,1235.3 1631.8,1236.6 1639.5,1237.8 1647.2,1239.0 1654.9,1240.2 1662.7,1241.5 1670.4,1242.7 1678.1,1243.9 1685.8,1245.1 1693.5,1246.3 1701.3,1247.6 1709.0,1249.0 1716.7,1250.3 1724.4,1251.6 1732.2,1252.9 1739.9,1254.1 1747.6,1255.3 1755.3,1256.7 1763.0,1258.0 1770.8,1259.1 1778.5,1259.8 1786.2,1260.1 1793.9,1259.9 1801.6,1259.3 1809.4,1258.4 1817.1,1257.3 1824.8,1256.1 1832.5,1255.0 1840.2,1253.6 1848.0,1251.9 1855.7,1250.0 1863.4,1248.0 1871.1,1246.0 1878.8,1244.2 1886.6,1242.5 1894.3,1241.0 1902.0,1239.4 1909.7,1237.9 1917.5,1236.3 1925.2,1234.7 1932.9,1233.1 1940.6,1231.5 1948.3,1229.8 1956.1,1228.2 1963.8,1226.5 1971.5,1224.8" fill="none" stroke="#ffc000" stroke-width="3.5" stroke-linejoin="round"/>
<path d="M1230.3,883.2h0M1238.0,906.2h0M1245.7,928.3h0M1253.5,949.2h0M1261.2,968.1h0M1268.9,986.7h0M1276.6,1004.3h0M1284.3,1020.2h0M1292.1,1035.2h0M1299.8,1050.4h0M1307.5,1066.9h0M1315.2,1082.0h0M1322.9,1094.6h0M1330.7,1106.0h0M1338.4,1116.3h0M1346.1,1125.8h0M1353.8,1134.5h0M1361.6,1142.8h0M1369.3,1150.5h0M1377.0,1157.7h0M1384.7,1164.1h0M1392.4,1169.7h0M1400.2,1174.9h0M1407.9,1179.7h0M1415.6,1184.1h0M1423.3,1187.9h0M1431.0,1191.1h0M1438.8,1193.7h0M1446.5,1195.9h0M1454.2,1197.8h0M1461.9,1199.6h0M1469.6,1201.2h0M1477.4,1202.9h0M1485.1,1204.5h0M1492.8,1206.0h0M1500.5,1207.4h0M1508.2,1208.9h0M1516.0,1210.5h0M1523.7,1212.2h0M1531.4,1214.1h0M1539.1,1216.1h0M1546.9,1218.2h0M1554.6,1220.1h0M1562.3,1222.0h0M1570.0,1223.8h0M1577.7,1225.6h0M1585.5,1227.4h0M1593.2,1229.1h0M1600.9,1230.8h0M1608.6,1232.4h0M1616.3,1233.9h0M1624.1,1235.3h0M1631.8,1236.6h0M1639.5,1237.8h0M1647.2,1239.0h0M1654.9,1240.2h0M1662.7,1241.5h0M1670.4,1242.7h0M1678.1,1243.9h0M1685.8,1245.1h0M1693.5,1246.3h0M1701.3,1247.6h0M1709.0,1249.0h0M1716.7,1250.3h0M1724.4,1251.6h0M1732.2,1252.9h0M1739.9,1254.1h0M1747.6,1255.3h0M1755.3,1256.7h0M1763.0,1258.0h0M1770.8,1259.1h0M1778.5,1259.8h0M1786.2,1260.1h0M1793.9,1259.9h0M1801.6,1259.3h0M1809.4,1258.4h0M1817.1,1257.3h0M1824.8,1256.1h0M1832.5,1255.0h0M1840.2,1253.6h0M1848.0,1251.9h0M1855.7,1250.0h0M1863.4,1248.0h0M1871.1,1246.0h0M1878.8,1244.2h0M1886.6,1242.5h0M1894.3,1241.0h0M1902.0,1239.4h0M1909.7,1237.9h0M1917.5,1236.3h0M1925.2,1234.7h0M1932.9,1233.1h0M1940.6,1231.5h0M1948.3,1229.8h0M1956.1,1228.2h0M1963.8,1226.5h0M1971.5,1224.8h0" stroke="#ffc000" stroke-width="22.2" stroke-linecap="round" fill="none"/>
<polyline points="1230.3,1061.8 1236.9,1073.1 1243.5,1083.8 1250.2,1093.9 1256.8,1103.2 1263.4,1111.7 1270.0,1119.4 1276.6,1126.7 1283.2,1133.5 1289.9,1139.9 1296.5,1145.9 1303.1,1151.6 1309.7,1157.1 1316.3,1162.3 1322.9,1167.2 1329.6,1171.9 1336.2,1176.4 1342.8,1180.4 1349.4,1184.2 1356.0,1187.7 1362.7,1191.1 1369.3,1194.2 1375.9,1197.1 1382.5,1199.8 1389.1,1202.1 1395.7,1204.2 1402.4,1206.3 1409.0,1208.3 1415.6,1210.1 1422.2,1211.6 1428.8,1212.7 1435.5,1213.4 1442.1,1213.9 1448.7,1214.4 1455.3,1214.7 1461.9,1215.1 1468.5,1215.3 1475.2,1215.3 1481.8,1215.3 1488.4,1215.0 1495.0,1214.7 1501.6,1214.3 1508.2,1213.8 1514.9,1213.4 1521.5,1213.0 1528.1,1212.5 1534.7,1212.0 1541.3,1211.4 1548.0,1210.9 1554.6,1210.4 1561.2,1210.0 1567.8,1209.7 1574.4,1209.4 1581.0,1209.1 1587.7,1208.9 1594.3,1208.6 1600.9,1208.4 1607.5,1208.2 1614.1,1208.0 1620.8,1207.9 1627.4,1207.7 1634.0,1207.5 1640.6,1207.3 1647.2,1207.2 1653.8,1207.1 1660.5,1206.9 1667.1,1206.8 1673.7,1206.7 1680.3,1206.5 1686.9,1206.4 1693.5,1206.3 1700.2,1206.2 1706.8,1206.1 1713.4,1206.0 1720.0,1205.9 1726.6,1205.8 1733.3,1205.7 1739.9,1205.7 1746.5,1205.6 1753.1,1205.5 1759.7,1205.4 1766.3,1205.3 1773.0,1205.2 1779.6,1205.1 1786.2,1205.0 1792.8,1204.9 1799.4,1204.8 1806.1,1204.6 1812.7,1204.5 1819.3,1204.4 1825.9,1204.2 1832.5,1204.1 1839.1,1203.9 1845.8,1203.7 1852.4,1203.6 1859.0,1203.4 1865.6,1203.2 1872.2,1203.0 1878.8,1202.8 1885.5,1202.7 1892.1,1202.5 1898.7,1202.2 1905.3,1202.0 1911.9,1201.8 1918.6,1201.6 1925.2,1201.3 1931.8,1201.1 1938.4,1200.8 1945.0,1200.5 1951.6,1200.3 1958.3,1200.0 1964.9,1199.7 1971.5,1199.4" fill="none" stroke="#ed7d31" stroke-width="3.5" stroke-linejoin="round"/>
<path d="M1230.3,1061.8h0M1236.9,1073.1h0M1243.5,1083.8h0M1250.2,1093.9h0M1256.8,1103.2h0M1263.4,1111.7h0M1270.0,1119.4h0M1276.6,1126.7h0M1283.2,1133.5h0M1289.9,1139.9h0M1296.5,1145.9h0M1303.1,1151.6h0M1309.7,1157.1h0M1316.3,1162.3h0M1322.9,1167.2h0M1329.6,1171.9h0M1336.2,1176.4h0M1342.8,1180.4h0M1349.4,1184.2h0M1356.0,1187.7h0M1362.7,1191.1h0M1369.3,1194.2h0M1375.9,1197.1h0M1382.5,1199.8h0M1389.1,1202.1h0M1395.7,1204.2h0M1402.4,1206.3h0M1409.0,1208.3h0M1415.6,1210.1h0M1422.2,1211.6h0M1428.8,1212.7h0M1435.5,1213.4h0M1442.1,1213.9h0M1448.7,1214.4h0M1455.3,1214.7h0M1461.9,1215.1h0M1468.5,1215.3h0M1475.2,1215.3h0M1481.8,1215.3h0M1488.4,1215.0h0M1495.0,1214.7h0M1501.6,1214.3h0M1508.2,1213.8h0M1514.9,1213.4h0M1521.5,1213.0h0M1528.1,1212.5h0M1534.7,1212.0h0M1541.3,1211.4h0M1548.0,1210.9h0M1554.6,1210.4h0M1561.2,1210.0h0M1567.8,1209.7h0M1574.4,1209.4h0M1581.0,1209.1h0M1587.7,1208.9h0M1594.3,1208.6h0M1600.9,1208.4h0M1607.5,1208.2h0M1614.1,1208.0h0M1620.8,1207.9h0M1627.4,1207.7h0M1634.0,1207.5h0M1640.6,1207.3h0M1647.2,1207.2h0M1653.8,1207.1h0M1660.5,1206.9h0M1667.1,1206.8h0M1673.7,1206.7h0M1680.3,1206.5h0M1686.9,1206.4h0M1693.5,1206.3h0M1700.2,1206.2h0M1706.8,1206.1h0M1713.4,1206.0h0M1720.0,1205.9h0M1726.6,1205.8h0M1733.3,1205.7h0M1739.9,1205.7h0M1746.5,1205.6h0M1753.1,1205.5h0M1759.7,1205.4h0M1766.3,1205.3h0M1773.0,1205.2h0M1779.6,1205.1h0M1786.2,1205.0h0M1792.8,1204.9h0M1799.4,1204.8h0M1806.1,1204.6h0M1812.7,1204.5h0M1819.3,1204.4h0M1825.9,1204.2h0M1832.5,1204.1h0M1839.1,1203.9h0M1845.8,1203.7h0M1852.4,1203.6h0M1859.0,1203.4h0M1865.6,1203.2h0M1872.2,1203.0h0M1878.8,1202.8h0M1885.5,1202.7h0M1892.1,1202.5h0M1898.7,1202.2h0M1905.3,1202.0h0M1911.9,1201.8h0M1918.6,1201.6h0M1925.2,1201.3h0M1931.8,1201.1h0M1938.4,1200.8h0M1945.0,1200.5h0M1951.6,1200.3h0M1958.3,1200.0h0M1964.9,1199.7h0M1971.5,1199.4h0" stroke="#ed7d31" stroke-width="22.2" stroke-linecap="round" fill="none"/>
<polyline points="1230.3,1157.8 1243.5,1170.2 1256.8,1181.2 1270.0,1190.4 1283.2,1198.8 1296.5,1206.0 1309.7,1211.8 1322.9,1216.7 1336.2,1220.9 1349.4,1224.2 1362.7,1227.0 1375.9,1229.3 1389.1,1231.1 1402.4,1232.5 1415.6,1233.7 1428.8,1234.4 1442.1,1234.4 1455.3,1234.2 1468.5,1233.8 1481.8,1233.2 1495.0,1232.0 1508.2,1230.5 1521.5,1228.8 1534.7,1226.9 1548.0,1224.8 1561.2,1222.8 1574.4,1221.1 1587.7,1219.5 1600.9,1217.9 1614.1,1216.2 1627.4,1213.8 1640.6,1211.0 1653.8,1208.6 1667.1,1206.6 1680.3,1204.8 1693.5,1203.3 1706.8,1202.1 1720.0,1201.1 1733.3,1200.2 1746.5,1199.5 1759.7,1198.8 1773.0,1198.2 1786.2,1197.9 1799.4,1197.8 1812.7,1197.7 1825.9,1197.6 1839.1,1197.6 1852.4,1197.5 1865.6,1197.5 1878.8,1197.5 1892.1,1197.4 1905.3,1197.4 1918.6,1197.4 1931.8,1197.3 1945.0,1197.3 1958.3,1197.3 1971.5,1197.3" fill="none" stroke="#4472c4" stroke-width="3.5" stroke-linejoin="round"/>
<path d="M1230.3,1157.8h0M1243.5,1170.2h0M1256.8,1181.2h0M1270.0,1190.4h0M1283.2,1198.8h0M1296.5,1206.0h0M1309.7,1211.8h0M1322.9,1216.7h0M1336.2,1220.9h0M1349.4,1224.2h0M1362.7,1227.0h0M1375.9,1229.3h0M1389.1,1231.1h0M1402.4,1232.5h0M1415.6,1233.7h0M1428.8,1234.4h0M1442.1,1234.4h0M1455.3,1234.2h0M1468.5,1233.8h0M1481.8,1233.2h0M1495.0,1232.0h0M1508.2,1230.5h0M1521.5,1228.8h0M1534.7,1226.9h0M1548.0,1224.8h0M1561.2,1222.8h0M1574.4,1221.1h0M1587.7,1219.5h0M1600.9,1217.9h0M1614.1,1216.2h0M1627.4,1213.8h0M1640.6,1211.0h0M1653.8,1208.6h0M1667.1,1206.6h0M1680.3,1204.8h0M1693.5,1203.3h0M1706.8,1202.1h0M1720.0,1201.1h0M1733.3,1200.2h0M1746.5,1199.5h0M1759.7,1198.8h0M1773.0,1198.2h0M1786.2,1197.9h0M1799.4,1197.8h0M1812.7,1197.7h0M1825.9,1197.6h0M1839.1,1197.6h0M1852.4,1197.5h0M1865.6,1197.5h0M1878.8,1197.5h0M1892.1,1197.4h0M1905.3,1197.4h0M1918.6,1197.4h0M1931.8,1197.3h0M1945.0,1197.3h0M1958.3,1197.3h0M1971.5,1197.3h0" stroke="#4472c4" stroke-width="22.2" stroke-linecap="round" fill="none"/>
<g transform="translate(1123.7,1070) rotate(-90)">
<text class="b" x="3.2" y="0.0" font-size="34.5" fill="#595959" font-style="italic" textLength="19.4" lengthAdjust="spacingAndGlyphs" stroke="#595959" stroke-width="0.25">g</text>
<text class="b" x="23.0" y="7.7" font-size="27" fill="#595959" font-style="italic" textLength="25.2" lengthAdjust="spacingAndGlyphs" stroke="#595959" stroke-width="0.25">m</text>
<text class="b" x="59.5" y="0.0" font-size="35" fill="#595959" textLength="13.1" lengthAdjust="spacingAndGlyphs">(</text>
<text class="b" x="70.9" y="0.0" font-size="34.5" fill="#595959" font-style="italic" textLength="48.1" lengthAdjust="spacingAndGlyphs" stroke="#595959" stroke-width="0.25">mS</text>
<text class="b" x="120.8" y="0.0" font-size="35" fill="#595959" textLength="14.3" lengthAdjust="spacingAndGlyphs">)</text>
</g>
<text class="b" x="1558.3" y="1434.2" font-size="33.5" fill="#595959" font-style="italic" textLength="18.1" lengthAdjust="spacingAndGlyphs" stroke="#595959" stroke-width="0.25">V</text>
<text class="b" x="1574.5" y="1441.3" font-size="25" fill="#595959" font-style="italic" textLength="16.7" lengthAdjust="spacingAndGlyphs" stroke="#595959" stroke-width="0.25">G</text>
<text class="b" x="1603.4" y="1434.2" font-size="34" fill="#595959" textLength="14.5" lengthAdjust="spacingAndGlyphs">(</text>
<text class="b" x="1617.6" y="1434.2" font-size="33.5" fill="#595959" font-style="italic" textLength="17.4" lengthAdjust="spacingAndGlyphs" stroke="#595959" stroke-width="0.25">V</text>
<text class="b" x="1639.0" y="1434.2" font-size="34" fill="#595959" textLength="14.9" lengthAdjust="spacingAndGlyphs">)</text>
<path d="M1689,759.3 H1746.5" stroke="#a5a5a5" stroke-width="3.8" stroke-linecap="round"/>
<circle cx="1716.8" cy="759.3" r="11.3" fill="#a5a5a5"/>
<text class="b" x="1763.2" y="763.5" font-size="29" fill="#595959" font-style="italic" textLength="42.0" lengthAdjust="spacingAndGlyphs" letter-spacing="2" stroke="#595959" stroke-width="0.25">Wd</text>
<path d="M1821.0,748.0 L1806.7,782.0" stroke="#595959" stroke-width="2.3" fill="none"/>
<text class="b" x="1821.0" y="786.4" font-size="29" fill="#595959" font-style="italic" textLength="14.0" lengthAdjust="spacingAndGlyphs" stroke="#595959" stroke-width="0.25">L</text>
<text class="b" x="1844.8" y="776.1" font-size="34" fill="#595959" textLength="21.0" lengthAdjust="spacingAndGlyphs" stroke="#595959" stroke-width="0.25">≅</text>
<text class="b" x="1877.0" y="774.6" font-size="30" fill="#595959" textLength="60.8" lengthAdjust="spacingAndGlyphs" stroke="#595959" stroke-width="0.25">1258</text>
<text class="b" x="1947.0" y="774.6" font-size="30" fill="#595959" font-style="italic" textLength="40.0" lengthAdjust="spacingAndGlyphs" stroke="#595959" stroke-width="0.25">µm</text>
<path d="M1689,825.8 H1746.5" stroke="#ffc000" stroke-width="3.8" stroke-linecap="round"/>
<circle cx="1716.8" cy="825.8" r="11.3" fill="#ffc000"/>
<text class="b" x="1764.7" y="827.9" font-size="29" fill="#595959" font-style="italic" textLength="42.0" lengthAdjust="spacingAndGlyphs" letter-spacing="2" stroke="#595959" stroke-width="0.25">Wd</text>
<path d="M1822.5,812.4 L1808.2,846.4" stroke="#595959" stroke-width="2.3" fill="none"/>
<text class="b" x="1822.5" y="850.8" font-size="29" fill="#595959" font-style="italic" textLength="14.0" lengthAdjust="spacingAndGlyphs" stroke="#595959" stroke-width="0.25">L</text>
<text class="b" x="1846.3" y="840.5" font-size="34" fill="#595959" textLength="21.0" lengthAdjust="spacingAndGlyphs" stroke="#595959" stroke-width="0.25">≅</text>
<text class="b" x="1877.7" y="839.0" font-size="30" fill="#595959" textLength="45.6" lengthAdjust="spacingAndGlyphs" stroke="#595959" stroke-width="0.25">600</text>
<text class="b" x="1932.0" y="839.0" font-size="30" fill="#595959" font-style="italic" textLength="40.0" lengthAdjust="spacingAndGlyphs" stroke="#595959" stroke-width="0.25">µm</text>
<path d="M1689,891.9 H1746.5" stroke="#ed7d31" stroke-width="3.8" stroke-linecap="round"/>
<circle cx="1716.8" cy="891.9" r="11.3" fill="#ed7d31"/>
<text class="b" x="1764.7" y="890.8" font-size="29" fill="#595959" font-style="italic" textLength="42.0" lengthAdjust="spacingAndGlyphs" letter-spacing="2" stroke="#595959" stroke-width="0.25">Wd</text>
<path d="M1822.5,875.3 L1808.2,909.3" stroke="#595959" stroke-width="2.3" fill="none"/>
<text class="b" x="1822.5" y="913.7" font-size="29" fill="#595959" font-style="italic" textLength="14.0" lengthAdjust="spacingAndGlyphs" stroke="#595959" stroke-width="0.25">L</text>
<text class="b" x="1846.3" y="903.4" font-size="34" fill="#595959" textLength="21.0" lengthAdjust="spacingAndGlyphs" stroke="#595959" stroke-width="0.25">≅</text>
<text class="b" x="1877.7" y="901.9" font-size="30" fill="#595959" textLength="45.6" lengthAdjust="spacingAndGlyphs" stroke="#595959" stroke-width="0.25">270</text>
<text class="b" x="1932.0" y="901.9" font-size="30" fill="#595959" font-style="italic" textLength="40.0" lengthAdjust="spacingAndGlyphs" stroke="#595959" stroke-width="0.25">µm</text>
<path d="M1689,957.6 H1746.5" stroke="#4472c4" stroke-width="3.8" stroke-linecap="round"/>
<circle cx="1716.8" cy="957.6" r="11.3" fill="#4472c4"/>
<text class="b" x="1766.2" y="951.6" font-size="29" fill="#595959" font-style="italic" textLength="42.0" lengthAdjust="spacingAndGlyphs" letter-spacing="2" stroke="#595959" stroke-width="0.25">Wd</text>
<path d="M1824.0,936.1 L1809.7,970.1" stroke="#595959" stroke-width="2.3" fill="none"/>
<text class="b" x="1824.0" y="974.5" font-size="29" fill="#595959" font-style="italic" textLength="14.0" lengthAdjust="spacingAndGlyphs" stroke="#595959" stroke-width="0.25">L</text>
<text class="b" x="1847.8" y="964.2" font-size="34" fill="#595959" textLength="21.0" lengthAdjust="spacingAndGlyphs" stroke="#595959" stroke-width="0.25">≅</text>
<text class="b" x="1878.8" y="962.7" font-size="30" fill="#595959" textLength="30.4" lengthAdjust="spacingAndGlyphs" stroke="#595959" stroke-width="0.25">25</text>
<text class="b" x="1916.0" y="962.7" font-size="30" fill="#595959" font-style="italic" textLength="40.0" lengthAdjust="spacingAndGlyphs" stroke="#595959" stroke-width="0.25">µm</text>
</g>
<g id="panelE">
<text class="a" x="192.5" y="1609.5" font-size="64" textLength="55.0" lengthAdjust="spacingAndGlyphs" stroke="#000" stroke-width="0.9">E)</text>
<path d="M715.5,1617.9 V2060.9 H1348.2 M715.5,2060.9 h9.5 M715.5,2034.2 h6.5 M715.5,2018.6 h6.5 M715.5,2007.6 h6.5 M715.5,1999.0 h6.5 M715.5,1992.0 h6.5 M715.5,1986.0 h6.5 M715.5,1980.9 h6.5 M715.5,1976.4 h6.5 M715.5,1972.3 h9.5 M715.5,1945.6 h6.5 M715.5,1930.0 h6.5 M715.5,1919.0 h6.5 M715.5,1910.4 h6.5 M715.5,1903.4 h6.5 M715.5,1897.4 h6.5 M715.5,1892.3 h6.5 M715.5,1887.8 h6.5 M715.5,1883.7 h9.5 M715.5,1857.0 h6.5 M715.5,1841.4 h6.5 M715.5,1830.4 h6.5 M715.5,1821.8 h6.5 M715.5,1814.8 h6.5 M715.5,1808.8 h6.5 M715.5,1803.7 h6.5 M715.5,1799.2 h6.5 M715.5,1795.1 h9.5 M715.5,1768.4 h6.5 M715.5,1752.8 h6.5 M715.5,1741.8 h6.5 M715.5,1733.2 h6.5 M715.5,1726.2 h6.5 M715.5,1720.2 h6.5 M715.5,1715.1 h6.5 M715.5,1710.6 h6.5 M715.5,1706.5 h9.5 M715.5,1679.8 h6.5 M715.5,1664.2 h6.5 M715.5,1653.2 h6.5 M715.5,1644.6 h6.5 M715.5,1637.6 h6.5 M715.5,1631.6 h6.5 M715.5,1626.5 h6.5 M715.5,1622.0 h6.5 M715.5,1617.9 h9.5 M747.2,2060.9 v-5.5 M765.8,2060.9 v-5.5 M779.0,2060.9 v-5.5 M789.2,2060.9 v-5.5 M797.6,2060.9 v-5.5 M804.6,2060.9 v-5.5 M810.7,2060.9 v-5.5 M816.1,2060.9 v-5.5 M820.9,2060.9 v-9 M852.7,2060.9 v-5.5 M871.3,2060.9 v-5.5 M884.4,2060.9 v-5.5 M894.7,2060.9 v-5.5 M903.0,2060.9 v-5.5 M910.1,2060.9 v-5.5 M916.2,2060.9 v-5.5 M921.6,2060.9 v-5.5 M926.4,2060.9 v-9 M958.1,2060.9 v-5.5 M976.7,2060.9 v-5.5 M989.9,2060.9 v-5.5 M1000.1,2060.9 v-5.5 M1008.5,2060.9 v-5.5 M1015.5,2060.9 v-5.5 M1021.6,2060.9 v-5.5 M1027.0,2060.9 v-5.5 M1031.8,2060.9 v-9 M1063.6,2060.9 v-5.5 M1082.2,2060.9 v-5.5 M1095.3,2060.9 v-5.5 M1105.6,2060.9 v-5.5 M1113.9,2060.9 v-5.5 M1121.0,2060.9 v-5.5 M1127.1,2060.9 v-5.5 M1132.5,2060.9 v-5.5 M1137.3,2060.9 v-9 M1169.0,2060.9 v-5.5 M1187.6,2060.9 v-5.5 M1200.8,2060.9 v-5.5 M1211.0,2060.9 v-5.5 M1219.4,2060.9 v-5.5 M1226.4,2060.9 v-5.5 M1232.5,2060.9 v-5.5 M1237.9,2060.9 v-5.5 M1242.8,2060.9 v-9 M1274.5,2060.9 v-5.5 M1293.1,2060.9 v-5.5 M1306.2,2060.9 v-5.5 M1316.5,2060.9 v-5.5 M1324.8,2060.9 v-5.5 M1331.9,2060.9 v-5.5 M1338.0,2060.9 v-5.5 M1343.4,2060.9 v-5.5 M1348.2,2060.9 v-9" fill="none" stroke="#d0d0d0" stroke-width="1.6"/>
<path d="M711,1706.5 H1352.2" stroke="#a6a6a6" stroke-width="1.6"/>
<text class="b" x="690.6" y="1626.8" font-size="27" fill="#595959" text-anchor="end" letter-spacing="0.4" stroke="#595959" stroke-width="0.25">100</text>
<text class="b" x="690.6" y="1715.4" font-size="27" fill="#595959" text-anchor="end" letter-spacing="0.4" stroke="#595959" stroke-width="0.25">10</text>
<text class="b" x="690.6" y="1804.0" font-size="27" fill="#595959" text-anchor="end" letter-spacing="0.4" stroke="#595959" stroke-width="0.25">1</text>
<text class="b" x="690.6" y="1892.6" font-size="27" fill="#595959" text-anchor="end" letter-spacing="0.4" stroke="#595959" stroke-width="0.25">0.1</text>
<text class="b" x="690.6" y="1981.2" font-size="27" fill="#595959" text-anchor="end" letter-spacing="0.4" stroke="#595959" stroke-width="0.25">0.01</text>
<text class="b" x="690.6" y="2069.8" font-size="27" fill="#595959" text-anchor="end" letter-spacing="0.4" stroke="#595959" stroke-width="0.25">0.001</text>
<text class="b" x="716.0" y="2103.6" font-size="27" fill="#595959" text-anchor="middle" letter-spacing="0.4" stroke="#595959" stroke-width="0.25">0.01</text>
<text class="b" x="821.4" y="2103.6" font-size="27" fill="#595959" text-anchor="middle" letter-spacing="0.4" stroke="#595959" stroke-width="0.25">0.1</text>
<text class="b" x="926.9" y="2103.6" font-size="27" fill="#595959" text-anchor="middle" letter-spacing="0.4" stroke="#595959" stroke-width="0.25">1</text>
<text class="b" x="1032.3" y="2103.6" font-size="27" fill="#595959" text-anchor="middle" letter-spacing="0.4" stroke="#595959" stroke-width="0.25">10</text>
<text class="b" x="1137.8" y="2103.6" font-size="27" fill="#595959" text-anchor="middle" letter-spacing="0.4" stroke="#595959" stroke-width="0.25">100</text>
<text class="b" x="1243.2" y="2103.6" font-size="27" fill="#595959" text-anchor="middle" letter-spacing="0.4" stroke="#595959" stroke-width="0.25">1000</text>
<text class="b" x="1348.7" y="2103.6" font-size="27" fill="#595959" text-anchor="middle" letter-spacing="0.4" stroke="#595959" stroke-width="0.25">10000</text>
<g transform="translate(606.3,1931) rotate(-90)">
<text class="b" x="0.6" y="0.0" font-size="29" fill="#7f7f7f" font-style="italic" textLength="51.0" lengthAdjust="spacingAndGlyphs" stroke="#7f7f7f" stroke-width="0.25">Max</text>
<text class="b" x="56.0" y="0.0" font-size="29" fill="#7f7f7f" font-style="italic" textLength="14.2" lengthAdjust="spacingAndGlyphs" stroke="#7f7f7f" stroke-width="0.25">g</text>
<text class="b" x="73.4" y="5.8" font-size="24" fill="#7f7f7f" font-style="italic" textLength="18.3" lengthAdjust="spacingAndGlyphs" stroke="#7f7f7f" stroke-width="0.25">m</text>
<text class="b" x="100.0" y="0.0" font-size="30" fill="#7f7f7f" textLength="10.5" lengthAdjust="spacingAndGlyphs" stroke="#7f7f7f" stroke-width="0.25">(</text>
<text class="b" x="111.5" y="0.0" font-size="29" fill="#7f7f7f" font-style="italic" textLength="35.0" lengthAdjust="spacingAndGlyphs" stroke="#7f7f7f" stroke-width="0.25">mS</text>
<text class="b" x="147.0" y="0.0" font-size="30" fill="#7f7f7f" textLength="10.5" lengthAdjust="spacingAndGlyphs" stroke="#7f7f7f" stroke-width="0.25">)</text>
</g>
<text class="b" x="940.2" y="2149.4" font-size="27" fill="#7f7f7f" font-style="italic" textLength="40.5" lengthAdjust="spacingAndGlyphs" letter-spacing="1.5" stroke="#7f7f7f" stroke-width="0.25">Wd</text>
<path d="M994.2,2135.5 L981.3,2164" stroke="#7f7f7f" stroke-width="2" fill="none"/>
<text class="b" x="993.9" y="2167.4" font-size="27" fill="#7f7f7f" font-style="italic" textLength="13.9" lengthAdjust="spacingAndGlyphs" stroke="#7f7f7f" stroke-width="0.25">L</text>
<text class="b" x="1019.0" y="2157.5" font-size="27.5" fill="#7f7f7f" textLength="11.0" lengthAdjust="spacingAndGlyphs">(</text>
<text class="b" x="1030.1" y="2157.5" font-size="27" fill="#7f7f7f" font-style="italic" textLength="35.8" lengthAdjust="spacingAndGlyphs" stroke="#7f7f7f" stroke-width="0.25">µm</text>
<text class="b" x="1066.3" y="2157.5" font-size="27.5" fill="#7f7f7f" textLength="12.6" lengthAdjust="spacingAndGlyphs">)</text>
<ellipse cx="896.5" cy="1747" rx="109.7" ry="54.7" transform="rotate(-31 896.5 1747)" fill="none" stroke="#ed7d31" stroke-width="4.2"/>
<ellipse cx="928" cy="1955" rx="135.5" ry="59.4" transform="rotate(-23.1 928 1955)" fill="none" stroke="#a5a5a5" stroke-width="4.2"/>
<ellipse cx="1147" cy="1735" rx="61.6" ry="30.6" transform="rotate(-33.4 1147 1735)" fill="none" stroke="#ffc000" stroke-width="4.2"/>
<path d="M830.3,1790.0h0M873.2,1751.3h0M890.4,1752.6h0M910.6,1735.2h0M910.6,1756.0h0M930.6,1735.2h0M930.6,1744.3h0M960.5,1717.2h0M976.6,1728.3h0" stroke="#ed7d31" stroke-width="15.2" stroke-linecap="round" fill="none"/>
<path d="M843.3,1999.4h0M893.5,1973.6h0M891.2,2010.5h0M895.4,2007.7h0M943.9,1941.7h0M948.0,1937.6h0M1021.0,1897.7h0" stroke="#a5a5a5" stroke-width="15.2" stroke-linecap="round" fill="none"/>
<path d="M1127.1,1763.7h0M1145.7,1744.3h0M1163.2,1728.3h0M1177.6,1725.0h0M1187.3,1711.0h0" stroke="#ffc000" stroke-width="15.2" stroke-linecap="round" fill="none"/>
<path d="M1009.3,1845.5h0M1009.3,1849.5h0M1025.7,1842.7h0M1048.1,1824.7h0M1048.1,1833.0h0M1073.6,1804.0h0M1073.6,1807.5h0M1181.7,1749.0h0M1205.9,1726.9h0M1219.2,1736.0h0M1216.4,1743.0h0M1251.6,1711.0h0M1263.5,1695.0h0M1270.4,1691.7h0" stroke="#4472c4" stroke-width="15.2" stroke-linecap="round" fill="none"/>
<ellipse cx="1146.4" cy="1768" rx="183" ry="28" transform="rotate(-29.6 1146.4 1768)" fill="none" stroke="#4472c4" stroke-width="4.2"/>
<path d="M812.2,1748.5 C760,1730 660,1726 584,1724.3" fill="none" stroke="#ed7d31" stroke-width="3"/>
<path d="M574.4,1724.1 L587.5,1718.3 L587.3,1730.3 Z" fill="#ed7d31"/>
<path d="M817.8,1959.7 C740,1958 670,1984 596,2007" fill="none" stroke="#a5a5a5" stroke-width="3"/>
<path d="M586.3,2010.5 L596.6,2000.6 L600.5,2011.9 Z" fill="#a5a5a5"/>
<path d="M1190,1692.5 C1250,1640 1360,1585 1443,1585" fill="none" stroke="#ffc000" stroke-width="3"/>
<path d="M1453.4,1584.5 L1440.6,1591.0 L1440.2,1579.0 Z" fill="#ffc000"/>
<path d="M1216.4,1758.2 C1300,1738 1440,1740 1533,1778" fill="none" stroke="#4472c4" stroke-width="3"/>
<path d="M1541.9,1782.7 L1527.6,1782.9 L1532.5,1771.9 Z" fill="#4472c4"/>
<circle cx="1204.8" cy="1837.4" r="7.8" fill="#4472c4"/>
<text class="a" x="1220.6" y="1844.7" font-size="24" fill="#595959" textLength="102.5" lengthAdjust="spacingAndGlyphs" stroke="#595959" stroke-width="0.45">This work</text>
<circle cx="1204.8" cy="1881.8" r="7.8" fill="#ed7d31"/>
<text class="a" x="1220.6" y="1889.1" font-size="24" fill="#595959" textLength="129.7" lengthAdjust="spacingAndGlyphs" stroke="#595959" stroke-width="0.45">Rivnay et al.</text>
<circle cx="1204.8" cy="1924.7" r="7.8" fill="#a5a5a5"/>
<text class="a" x="1220.6" y="1932.0" font-size="24" fill="#595959" textLength="97.8" lengthAdjust="spacingAndGlyphs" stroke="#595959" stroke-width="0.45">Inal et al.</text>
<circle cx="1204.8" cy="1969.1" r="7.8" fill="#ffc000"/>
<text class="a" x="1220.6" y="1976.4" font-size="24" fill="#595959" textLength="97.8" lengthAdjust="spacingAndGlyphs" stroke="#595959" stroke-width="0.45">Sun et al.</text>
<circle cx="247" cy="1673.7" r="4.1" fill="#000"/>
<text class="a" x="285.8" y="1683.0" font-size="30" textLength="91.5" lengthAdjust="spacingAndGlyphs" stroke="#000" stroke-width="0.45">Rivnay</text>
<text class="a" x="384.0" y="1683.0" font-size="30" font-style="italic" textLength="68.0" lengthAdjust="spacingAndGlyphs" stroke="#000" stroke-width="0.45">et al.</text>
<circle cx="247" cy="1715.2" r="4.1" fill="#000"/>
<text class="a" x="285.8" y="1724.5" font-size="30" textLength="245.2" lengthAdjust="spacingAndGlyphs" stroke="#000" stroke-width="0.45">Photolithography</text>
<circle cx="247" cy="1756.7" r="4.1" fill="#000"/>
<text class="a" x="285.8" y="1766.0" font-size="30" textLength="141.2" lengthAdjust="spacingAndGlyphs" stroke="#000" stroke-width="0.45">S&amp;D: Gold</text>
<circle cx="247" cy="1797.7" r="4.1" fill="#000"/>
<text class="a" x="285.8" y="1807.0" font-size="30" textLength="221.8" lengthAdjust="spacingAndGlyphs" stroke="#000" stroke-width="0.45">OSC: PEDOT:PSS</text>
<circle cx="244.8" cy="1982.0" r="4.1" fill="#000"/>
<text class="a" x="283.0" y="1991.3" font-size="30" textLength="50.0" lengthAdjust="spacingAndGlyphs" stroke="#000" stroke-width="0.45">Inal</text>
<text class="a" x="341.0" y="1991.3" font-size="30" font-style="italic" textLength="64.0" lengthAdjust="spacingAndGlyphs" stroke="#000" stroke-width="0.45">el al.</text>
<circle cx="244.8" cy="2023.7" r="4.1" fill="#000"/>
<text class="a" x="283.0" y="2033.0" font-size="30" textLength="244.5" lengthAdjust="spacingAndGlyphs" stroke="#000" stroke-width="0.45">Photolithography</text>
<circle cx="244.8" cy="2065.2" r="4.1" fill="#000"/>
<text class="a" x="283.0" y="2074.5" font-size="30" textLength="141.4" lengthAdjust="spacingAndGlyphs" stroke="#000" stroke-width="0.45">S&amp;D: Gold</text>
<circle cx="244.8" cy="2106.7" r="4.1" fill="#000"/>
<text class="a" x="283.0" y="2116.0" font-size="30" textLength="294.0" lengthAdjust="spacingAndGlyphs" stroke="#000" stroke-width="0.45">OSC: PEDOT:PMATFSI</text>
<circle cx="1497.6" cy="1555.8" r="4.1" fill="#000"/>
<text class="a" x="1535.8" y="1565.1" font-size="30" textLength="50.5" lengthAdjust="spacingAndGlyphs" stroke="#000" stroke-width="0.45">Sun</text>
<text class="a" x="1596.0" y="1565.1" font-size="30" font-style="italic" textLength="67.3" lengthAdjust="spacingAndGlyphs" stroke="#000" stroke-width="0.45">et al.</text>
<circle cx="1497.6" cy="1597.4" r="4.1" fill="#000"/>
<text class="a" x="1535.8" y="1606.7" font-size="30" textLength="245.2" lengthAdjust="spacingAndGlyphs" stroke="#000" stroke-width="0.45">Photolithography</text>
<circle cx="1497.6" cy="1639.0" r="4.1" fill="#000"/>
<text class="a" x="1535.8" y="1648.3" font-size="30" textLength="142.2" lengthAdjust="spacingAndGlyphs" stroke="#000" stroke-width="0.45">S&amp;D: Gold</text>
<circle cx="1497.6" cy="1680.6" r="4.1" fill="#000"/>
<text class="a" x="1535.8" y="1689.9" font-size="30" textLength="243.4" lengthAdjust="spacingAndGlyphs" stroke="#000" stroke-width="0.45">OSC: BBL (n-type)</text>
<circle cx="1499.2" cy="1837.2" r="4.1" fill="#000"/>
<text class="a" x="1537.8" y="1846.5" font-size="30" textLength="132.5" lengthAdjust="spacingAndGlyphs" stroke="#000" stroke-width="0.45">This work</text>
<circle cx="1499.2" cy="1878.8" r="4.1" fill="#000"/>
<text class="a" x="1537.8" y="1888.1" font-size="30" textLength="198.2" lengthAdjust="spacingAndGlyphs" stroke="#000" stroke-width="0.45">Inkjet printing</text>
<circle cx="1499.2" cy="1920.4" r="4.1" fill="#000"/>
<text class="a" x="1537.8" y="1929.7" font-size="30" textLength="153.8" lengthAdjust="spacingAndGlyphs" stroke="#000" stroke-width="0.45">S&amp;D: Silver</text>
<circle cx="1499.2" cy="1962.0" r="4.1" fill="#000"/>
<text class="a" x="1537.8" y="1971.3" font-size="30" textLength="221.7" lengthAdjust="spacingAndGlyphs" stroke="#000" stroke-width="0.45">OSC: PEDOT:PSS</text>
</g>
</svg>
</body></html>
